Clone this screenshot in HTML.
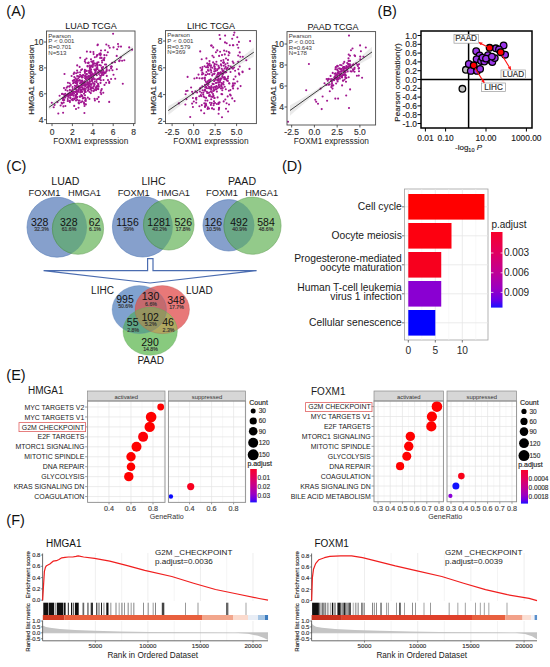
<!DOCTYPE html><html><head><meta charset="utf-8"><style>html,body{margin:0;padding:0;background:#fff;width:550px;height:667px;overflow:hidden;}svg{display:block;font-family:"Liberation Sans", sans-serif;} text{stroke-width:0.15px;}</style></head><body><svg width="550" height="667" viewBox="0 0 550 667"><rect width="550" height="667" fill="#fff"/><text x="6.30" y="16.00" font-size="14.5" text-anchor="start" fill="#111"  >(A)</text>
<text x="377.60" y="16.00" font-size="14.5" text-anchor="start" fill="#111"  >(B)</text>
<text x="6.30" y="170.60" font-size="14.5" text-anchor="start" fill="#111"  >(C)</text>
<text x="282.00" y="170.60" font-size="14.5" text-anchor="start" fill="#111"  >(D)</text>
<text x="6.30" y="379.60" font-size="14.5" text-anchor="start" fill="#111"  >(E)</text>
<text x="6.30" y="525.40" font-size="14.5" text-anchor="start" fill="#111"  >(F)</text>
<g>
<polygon points="48.9,104.8 53.1,102.1 57.3,99.4 61.5,96.7 65.7,94.0 69.8,91.2 74.0,88.4 78.2,85.6 82.4,82.8 86.6,79.9 90.8,76.9 94.9,74.0 99.1,71.0 103.3,68.0 107.5,65.0 111.7,61.9 115.9,58.8 120.0,55.6 124.2,52.5 128.4,49.3 132.6,46.0 132.6,51.2 128.4,53.9 124.2,56.5 120.0,59.2 115.9,62.0 111.7,64.7 107.5,67.5 103.3,70.4 99.1,73.2 94.9,76.1 90.8,79.0 86.6,82.0 82.4,85.0 78.2,88.0 74.0,91.0 69.8,94.1 65.7,97.2 61.5,100.3 57.3,103.5 53.1,106.7 48.9,109.9" fill="#dcdcdc" opacity="0.6"/>
<circle cx="69.8" cy="89.9" r="1.05" fill="#a1168f"/>
<circle cx="100.4" cy="77.8" r="1.05" fill="#a1168f"/>
<circle cx="68.4" cy="94.2" r="1.05" fill="#a1168f"/>
<circle cx="93.3" cy="63.6" r="1.05" fill="#a1168f"/>
<circle cx="69.9" cy="102.1" r="1.05" fill="#a1168f"/>
<circle cx="96.4" cy="68.3" r="1.05" fill="#a1168f"/>
<circle cx="107.8" cy="52.2" r="1.05" fill="#a1168f"/>
<circle cx="85.3" cy="84.6" r="1.05" fill="#a1168f"/>
<circle cx="122.1" cy="60.8" r="1.05" fill="#a1168f"/>
<circle cx="75.9" cy="98.0" r="1.05" fill="#a1168f"/>
<circle cx="88.0" cy="78.4" r="1.05" fill="#a1168f"/>
<circle cx="81.9" cy="84.8" r="1.05" fill="#a1168f"/>
<circle cx="90.4" cy="70.6" r="1.05" fill="#a1168f"/>
<circle cx="101.8" cy="67.5" r="1.05" fill="#a1168f"/>
<circle cx="62.0" cy="94.0" r="1.05" fill="#a1168f"/>
<circle cx="67.1" cy="95.8" r="1.05" fill="#a1168f"/>
<circle cx="66.4" cy="95.1" r="1.05" fill="#a1168f"/>
<circle cx="76.0" cy="86.6" r="1.05" fill="#a1168f"/>
<circle cx="132.1" cy="49.8" r="1.05" fill="#a1168f"/>
<circle cx="98.3" cy="89.1" r="1.05" fill="#a1168f"/>
<circle cx="82.7" cy="77.2" r="1.05" fill="#a1168f"/>
<circle cx="85.4" cy="78.0" r="1.05" fill="#a1168f"/>
<circle cx="88.1" cy="90.5" r="1.05" fill="#a1168f"/>
<circle cx="94.4" cy="84.9" r="1.05" fill="#a1168f"/>
<circle cx="112.5" cy="70.3" r="1.05" fill="#a1168f"/>
<circle cx="96.1" cy="74.2" r="1.05" fill="#a1168f"/>
<circle cx="99.8" cy="79.3" r="1.05" fill="#a1168f"/>
<circle cx="100.4" cy="72.8" r="1.05" fill="#a1168f"/>
<circle cx="104.1" cy="60.2" r="1.05" fill="#a1168f"/>
<circle cx="88.6" cy="87.8" r="1.05" fill="#a1168f"/>
<circle cx="97.3" cy="67.7" r="1.05" fill="#a1168f"/>
<circle cx="109.3" cy="70.4" r="1.05" fill="#a1168f"/>
<circle cx="94.3" cy="69.5" r="1.05" fill="#a1168f"/>
<circle cx="90.6" cy="75.8" r="1.05" fill="#a1168f"/>
<circle cx="89.2" cy="85.6" r="1.05" fill="#a1168f"/>
<circle cx="72.7" cy="93.8" r="1.05" fill="#a1168f"/>
<circle cx="94.8" cy="57.3" r="1.05" fill="#a1168f"/>
<circle cx="100.1" cy="58.0" r="1.05" fill="#a1168f"/>
<circle cx="97.4" cy="64.8" r="1.05" fill="#a1168f"/>
<circle cx="89.2" cy="70.7" r="1.05" fill="#a1168f"/>
<circle cx="111.1" cy="68.5" r="1.05" fill="#a1168f"/>
<circle cx="77.1" cy="70.6" r="1.05" fill="#a1168f"/>
<circle cx="90.0" cy="67.8" r="1.05" fill="#a1168f"/>
<circle cx="98.7" cy="86.6" r="1.05" fill="#a1168f"/>
<circle cx="89.1" cy="71.0" r="1.05" fill="#a1168f"/>
<circle cx="88.4" cy="89.1" r="1.05" fill="#a1168f"/>
<circle cx="85.1" cy="78.2" r="1.05" fill="#a1168f"/>
<circle cx="102.0" cy="60.8" r="1.05" fill="#a1168f"/>
<circle cx="87.5" cy="66.0" r="1.05" fill="#a1168f"/>
<circle cx="76.2" cy="81.5" r="1.05" fill="#a1168f"/>
<circle cx="102.0" cy="73.9" r="1.05" fill="#a1168f"/>
<circle cx="62.0" cy="103.6" r="1.05" fill="#a1168f"/>
<circle cx="89.9" cy="72.8" r="1.05" fill="#a1168f"/>
<circle cx="108.0" cy="80.1" r="1.05" fill="#a1168f"/>
<circle cx="86.7" cy="74.1" r="1.05" fill="#a1168f"/>
<circle cx="84.5" cy="106.0" r="1.05" fill="#a1168f"/>
<circle cx="97.8" cy="44.5" r="1.05" fill="#a1168f"/>
<circle cx="100.5" cy="82.9" r="1.05" fill="#a1168f"/>
<circle cx="81.0" cy="82.8" r="1.05" fill="#a1168f"/>
<circle cx="121.0" cy="46.6" r="1.05" fill="#a1168f"/>
<circle cx="88.2" cy="63.2" r="1.05" fill="#a1168f"/>
<circle cx="85.6" cy="62.7" r="1.05" fill="#a1168f"/>
<circle cx="77.2" cy="91.6" r="1.05" fill="#a1168f"/>
<circle cx="96.6" cy="56.6" r="1.05" fill="#a1168f"/>
<circle cx="95.7" cy="70.9" r="1.05" fill="#a1168f"/>
<circle cx="61.6" cy="102.7" r="1.05" fill="#a1168f"/>
<circle cx="78.3" cy="91.5" r="1.05" fill="#a1168f"/>
<circle cx="94.8" cy="79.1" r="1.05" fill="#a1168f"/>
<circle cx="97.5" cy="72.2" r="1.05" fill="#a1168f"/>
<circle cx="82.1" cy="82.9" r="1.05" fill="#a1168f"/>
<circle cx="92.6" cy="66.9" r="1.05" fill="#a1168f"/>
<circle cx="80.1" cy="87.6" r="1.05" fill="#a1168f"/>
<circle cx="67.9" cy="82.8" r="1.05" fill="#a1168f"/>
<circle cx="106.7" cy="69.3" r="1.05" fill="#a1168f"/>
<circle cx="80.1" cy="96.8" r="1.05" fill="#a1168f"/>
<circle cx="89.0" cy="77.0" r="1.05" fill="#a1168f"/>
<circle cx="116.7" cy="55.9" r="1.05" fill="#a1168f"/>
<circle cx="76.0" cy="109.0" r="1.05" fill="#a1168f"/>
<circle cx="106.1" cy="64.6" r="1.05" fill="#a1168f"/>
<circle cx="64.5" cy="95.2" r="1.05" fill="#a1168f"/>
<circle cx="64.5" cy="74.0" r="1.05" fill="#a1168f"/>
<circle cx="102.1" cy="62.5" r="1.05" fill="#a1168f"/>
<circle cx="84.3" cy="103.8" r="1.05" fill="#a1168f"/>
<circle cx="84.9" cy="97.7" r="1.05" fill="#a1168f"/>
<circle cx="94.9" cy="100.4" r="1.05" fill="#a1168f"/>
<circle cx="74.2" cy="79.7" r="1.05" fill="#a1168f"/>
<circle cx="109.3" cy="81.9" r="1.05" fill="#a1168f"/>
<circle cx="65.6" cy="89.9" r="1.05" fill="#a1168f"/>
<circle cx="98.4" cy="84.9" r="1.05" fill="#a1168f"/>
<circle cx="77.1" cy="93.6" r="1.05" fill="#a1168f"/>
<circle cx="70.3" cy="97.4" r="1.05" fill="#a1168f"/>
<circle cx="103.9" cy="59.5" r="1.05" fill="#a1168f"/>
<circle cx="115.0" cy="62.3" r="1.05" fill="#a1168f"/>
<circle cx="84.8" cy="92.0" r="1.05" fill="#a1168f"/>
<circle cx="85.0" cy="95.3" r="1.05" fill="#a1168f"/>
<circle cx="62.2" cy="93.8" r="1.05" fill="#a1168f"/>
<circle cx="106.5" cy="55.3" r="1.05" fill="#a1168f"/>
<circle cx="105.0" cy="64.5" r="1.05" fill="#a1168f"/>
<circle cx="76.8" cy="87.0" r="1.05" fill="#a1168f"/>
<circle cx="81.5" cy="95.0" r="1.05" fill="#a1168f"/>
<circle cx="63.4" cy="106.4" r="1.05" fill="#a1168f"/>
<circle cx="86.6" cy="79.3" r="1.05" fill="#a1168f"/>
<circle cx="80.1" cy="72.3" r="1.05" fill="#a1168f"/>
<circle cx="89.1" cy="72.8" r="1.05" fill="#a1168f"/>
<circle cx="103.5" cy="80.0" r="1.05" fill="#a1168f"/>
<circle cx="59.6" cy="95.7" r="1.05" fill="#a1168f"/>
<circle cx="77.2" cy="76.1" r="1.05" fill="#a1168f"/>
<circle cx="91.3" cy="66.3" r="1.05" fill="#a1168f"/>
<circle cx="97.2" cy="98.9" r="1.05" fill="#a1168f"/>
<circle cx="96.6" cy="82.1" r="1.05" fill="#a1168f"/>
<circle cx="76.3" cy="91.9" r="1.05" fill="#a1168f"/>
<circle cx="97.3" cy="62.6" r="1.05" fill="#a1168f"/>
<circle cx="100.6" cy="92.4" r="1.05" fill="#a1168f"/>
<circle cx="78.5" cy="107.7" r="1.05" fill="#a1168f"/>
<circle cx="85.3" cy="75.8" r="1.05" fill="#a1168f"/>
<circle cx="76.2" cy="86.2" r="1.05" fill="#a1168f"/>
<circle cx="89.9" cy="67.6" r="1.05" fill="#a1168f"/>
<circle cx="75.4" cy="95.7" r="1.05" fill="#a1168f"/>
<circle cx="76.2" cy="73.3" r="1.05" fill="#a1168f"/>
<circle cx="101.7" cy="71.9" r="1.05" fill="#a1168f"/>
<circle cx="89.8" cy="77.4" r="1.05" fill="#a1168f"/>
<circle cx="89.5" cy="81.1" r="1.05" fill="#a1168f"/>
<circle cx="82.1" cy="96.1" r="1.05" fill="#a1168f"/>
<circle cx="77.8" cy="72.5" r="1.05" fill="#a1168f"/>
<circle cx="94.1" cy="74.9" r="1.05" fill="#a1168f"/>
<circle cx="83.7" cy="82.3" r="1.05" fill="#a1168f"/>
<circle cx="91.5" cy="84.7" r="1.05" fill="#a1168f"/>
<circle cx="89.4" cy="76.3" r="1.05" fill="#a1168f"/>
<circle cx="76.4" cy="94.8" r="1.05" fill="#a1168f"/>
<circle cx="72.9" cy="98.9" r="1.05" fill="#a1168f"/>
<circle cx="98.9" cy="101.8" r="1.05" fill="#a1168f"/>
<circle cx="83.0" cy="89.4" r="1.05" fill="#a1168f"/>
<circle cx="78.1" cy="86.0" r="1.05" fill="#a1168f"/>
<circle cx="102.2" cy="68.9" r="1.05" fill="#a1168f"/>
<circle cx="84.7" cy="88.3" r="1.05" fill="#a1168f"/>
<circle cx="84.9" cy="72.9" r="1.05" fill="#a1168f"/>
<circle cx="81.3" cy="95.4" r="1.05" fill="#a1168f"/>
<circle cx="69.3" cy="101.1" r="1.05" fill="#a1168f"/>
<circle cx="67.5" cy="86.6" r="1.05" fill="#a1168f"/>
<circle cx="91.6" cy="80.1" r="1.05" fill="#a1168f"/>
<circle cx="106.8" cy="75.9" r="1.05" fill="#a1168f"/>
<circle cx="97.0" cy="63.8" r="1.05" fill="#a1168f"/>
<circle cx="65.4" cy="106.0" r="1.05" fill="#a1168f"/>
<circle cx="73.9" cy="82.5" r="1.05" fill="#a1168f"/>
<circle cx="104.5" cy="84.9" r="1.05" fill="#a1168f"/>
<circle cx="101.1" cy="75.7" r="1.05" fill="#a1168f"/>
<circle cx="81.3" cy="89.8" r="1.05" fill="#a1168f"/>
<circle cx="82.2" cy="101.4" r="1.05" fill="#a1168f"/>
<circle cx="72.9" cy="100.3" r="1.05" fill="#a1168f"/>
<circle cx="93.4" cy="52.0" r="1.05" fill="#a1168f"/>
<circle cx="124.3" cy="60.2" r="1.05" fill="#a1168f"/>
<circle cx="63.0" cy="100.0" r="1.05" fill="#a1168f"/>
<circle cx="73.7" cy="73.9" r="1.05" fill="#a1168f"/>
<circle cx="94.5" cy="83.9" r="1.05" fill="#a1168f"/>
<circle cx="99.6" cy="65.0" r="1.05" fill="#a1168f"/>
<circle cx="64.3" cy="100.0" r="1.05" fill="#a1168f"/>
<circle cx="83.4" cy="83.0" r="1.05" fill="#a1168f"/>
<circle cx="88.5" cy="83.2" r="1.05" fill="#a1168f"/>
<circle cx="89.3" cy="85.4" r="1.05" fill="#a1168f"/>
<circle cx="74.3" cy="77.1" r="1.05" fill="#a1168f"/>
<circle cx="91.6" cy="72.4" r="1.05" fill="#a1168f"/>
<circle cx="64.7" cy="97.3" r="1.05" fill="#a1168f"/>
<circle cx="98.0" cy="88.9" r="1.05" fill="#a1168f"/>
<circle cx="101.8" cy="75.3" r="1.05" fill="#a1168f"/>
<circle cx="92.2" cy="78.5" r="1.05" fill="#a1168f"/>
<circle cx="89.7" cy="65.6" r="1.05" fill="#a1168f"/>
<circle cx="81.1" cy="70.1" r="1.05" fill="#a1168f"/>
<circle cx="75.9" cy="96.3" r="1.05" fill="#a1168f"/>
<circle cx="96.5" cy="86.9" r="1.05" fill="#a1168f"/>
<circle cx="81.6" cy="75.9" r="1.05" fill="#a1168f"/>
<circle cx="103.3" cy="92.8" r="1.05" fill="#a1168f"/>
<circle cx="93.6" cy="54.1" r="1.05" fill="#a1168f"/>
<circle cx="103.1" cy="72.5" r="1.05" fill="#a1168f"/>
<circle cx="78.4" cy="89.3" r="1.05" fill="#a1168f"/>
<circle cx="70.8" cy="94.0" r="1.05" fill="#a1168f"/>
<circle cx="84.1" cy="84.1" r="1.05" fill="#a1168f"/>
<circle cx="103.0" cy="72.5" r="1.05" fill="#a1168f"/>
<circle cx="66.6" cy="87.8" r="1.05" fill="#a1168f"/>
<circle cx="71.9" cy="94.7" r="1.05" fill="#a1168f"/>
<circle cx="84.8" cy="85.6" r="1.05" fill="#a1168f"/>
<circle cx="72.9" cy="92.5" r="1.05" fill="#a1168f"/>
<circle cx="116.8" cy="69.3" r="1.05" fill="#a1168f"/>
<circle cx="84.8" cy="70.9" r="1.05" fill="#a1168f"/>
<circle cx="96.9" cy="64.3" r="1.05" fill="#a1168f"/>
<circle cx="98.6" cy="97.1" r="1.05" fill="#a1168f"/>
<circle cx="74.8" cy="88.1" r="1.05" fill="#a1168f"/>
<circle cx="93.5" cy="61.0" r="1.05" fill="#a1168f"/>
<circle cx="93.1" cy="79.0" r="1.05" fill="#a1168f"/>
<circle cx="87.2" cy="82.7" r="1.05" fill="#a1168f"/>
<circle cx="90.1" cy="71.1" r="1.05" fill="#a1168f"/>
<circle cx="82.0" cy="91.9" r="1.05" fill="#a1168f"/>
<circle cx="74.9" cy="80.0" r="1.05" fill="#a1168f"/>
<circle cx="104.3" cy="55.1" r="1.05" fill="#a1168f"/>
<circle cx="98.5" cy="62.2" r="1.05" fill="#a1168f"/>
<circle cx="86.6" cy="74.0" r="1.05" fill="#a1168f"/>
<circle cx="72.2" cy="92.6" r="1.05" fill="#a1168f"/>
<circle cx="76.6" cy="81.7" r="1.05" fill="#a1168f"/>
<circle cx="78.7" cy="87.4" r="1.05" fill="#a1168f"/>
<circle cx="92.2" cy="61.6" r="1.05" fill="#a1168f"/>
<circle cx="75.8" cy="96.4" r="1.05" fill="#a1168f"/>
<circle cx="97.9" cy="86.6" r="1.05" fill="#a1168f"/>
<circle cx="92.9" cy="83.0" r="1.05" fill="#a1168f"/>
<circle cx="85.2" cy="100.3" r="1.05" fill="#a1168f"/>
<circle cx="96.5" cy="80.0" r="1.05" fill="#a1168f"/>
<circle cx="74.3" cy="72.6" r="1.05" fill="#a1168f"/>
<circle cx="92.3" cy="80.9" r="1.05" fill="#a1168f"/>
<circle cx="88.2" cy="62.7" r="1.05" fill="#a1168f"/>
<circle cx="86.3" cy="76.5" r="1.05" fill="#a1168f"/>
<circle cx="93.8" cy="86.4" r="1.05" fill="#a1168f"/>
<circle cx="88.5" cy="85.0" r="1.05" fill="#a1168f"/>
<circle cx="69.5" cy="86.5" r="1.05" fill="#a1168f"/>
<circle cx="95.8" cy="73.5" r="1.05" fill="#a1168f"/>
<circle cx="74.2" cy="105.9" r="1.05" fill="#a1168f"/>
<circle cx="93.4" cy="77.3" r="1.05" fill="#a1168f"/>
<circle cx="63.5" cy="97.5" r="1.05" fill="#a1168f"/>
<circle cx="65.7" cy="95.7" r="1.05" fill="#a1168f"/>
<circle cx="88.6" cy="75.7" r="1.05" fill="#a1168f"/>
<circle cx="89.7" cy="76.9" r="1.05" fill="#a1168f"/>
<circle cx="71.0" cy="94.8" r="1.05" fill="#a1168f"/>
<circle cx="79.6" cy="87.9" r="1.05" fill="#a1168f"/>
<circle cx="90.4" cy="71.4" r="1.05" fill="#a1168f"/>
<circle cx="109.2" cy="101.9" r="1.05" fill="#a1168f"/>
<circle cx="92.2" cy="79.2" r="1.05" fill="#a1168f"/>
<circle cx="118.0" cy="44.0" r="1.05" fill="#a1168f"/>
<circle cx="63.9" cy="94.3" r="1.05" fill="#a1168f"/>
<circle cx="79.5" cy="76.9" r="1.05" fill="#a1168f"/>
<circle cx="72.1" cy="91.8" r="1.05" fill="#a1168f"/>
<circle cx="84.9" cy="83.1" r="1.05" fill="#a1168f"/>
<circle cx="78.6" cy="102.9" r="1.05" fill="#a1168f"/>
<circle cx="93.0" cy="64.9" r="1.05" fill="#a1168f"/>
<circle cx="85.7" cy="91.9" r="1.05" fill="#a1168f"/>
<circle cx="89.5" cy="72.7" r="1.05" fill="#a1168f"/>
<circle cx="84.3" cy="82.7" r="1.05" fill="#a1168f"/>
<circle cx="106.1" cy="82.7" r="1.05" fill="#a1168f"/>
<circle cx="79.0" cy="103.4" r="1.05" fill="#a1168f"/>
<circle cx="77.0" cy="94.0" r="1.05" fill="#a1168f"/>
<circle cx="73.5" cy="95.7" r="1.05" fill="#a1168f"/>
<circle cx="111.4" cy="66.4" r="1.05" fill="#a1168f"/>
<circle cx="85.1" cy="59.8" r="1.05" fill="#a1168f"/>
<circle cx="85.8" cy="99.1" r="1.05" fill="#a1168f"/>
<circle cx="92.2" cy="87.6" r="1.05" fill="#a1168f"/>
<circle cx="109.2" cy="82.9" r="1.05" fill="#a1168f"/>
<circle cx="78.7" cy="100.8" r="1.05" fill="#a1168f"/>
<circle cx="88.0" cy="90.7" r="1.05" fill="#a1168f"/>
<circle cx="85.8" cy="85.3" r="1.05" fill="#a1168f"/>
<circle cx="78.2" cy="78.4" r="1.05" fill="#a1168f"/>
<circle cx="99.6" cy="71.0" r="1.05" fill="#a1168f"/>
<circle cx="74.3" cy="98.3" r="1.05" fill="#a1168f"/>
<circle cx="90.4" cy="51.9" r="1.05" fill="#a1168f"/>
<circle cx="80.4" cy="92.5" r="1.05" fill="#a1168f"/>
<circle cx="77.1" cy="97.1" r="1.05" fill="#a1168f"/>
<circle cx="73.3" cy="91.9" r="1.05" fill="#a1168f"/>
<circle cx="106.4" cy="67.0" r="1.05" fill="#a1168f"/>
<circle cx="79.6" cy="100.5" r="1.05" fill="#a1168f"/>
<circle cx="89.6" cy="79.1" r="1.05" fill="#a1168f"/>
<circle cx="69.8" cy="100.7" r="1.05" fill="#a1168f"/>
<circle cx="86.1" cy="70.9" r="1.05" fill="#a1168f"/>
<circle cx="95.3" cy="72.3" r="1.05" fill="#a1168f"/>
<circle cx="82.2" cy="80.9" r="1.05" fill="#a1168f"/>
<circle cx="86.5" cy="58.5" r="1.05" fill="#a1168f"/>
<circle cx="71.1" cy="94.6" r="1.05" fill="#a1168f"/>
<circle cx="104.1" cy="72.2" r="1.05" fill="#a1168f"/>
<circle cx="106.3" cy="67.7" r="1.05" fill="#a1168f"/>
<circle cx="88.7" cy="83.4" r="1.05" fill="#a1168f"/>
<circle cx="67.7" cy="101.0" r="1.05" fill="#a1168f"/>
<circle cx="117.2" cy="49.2" r="1.05" fill="#a1168f"/>
<circle cx="95.0" cy="63.7" r="1.05" fill="#a1168f"/>
<circle cx="94.5" cy="63.3" r="1.05" fill="#a1168f"/>
<circle cx="83.0" cy="85.6" r="1.05" fill="#a1168f"/>
<circle cx="100.2" cy="75.8" r="1.05" fill="#a1168f"/>
<circle cx="68.4" cy="95.3" r="1.05" fill="#a1168f"/>
<circle cx="79.2" cy="80.6" r="1.05" fill="#a1168f"/>
<circle cx="76.8" cy="96.9" r="1.05" fill="#a1168f"/>
<circle cx="82.1" cy="69.2" r="1.05" fill="#a1168f"/>
<circle cx="86.0" cy="79.7" r="1.05" fill="#a1168f"/>
<circle cx="86.8" cy="77.7" r="1.05" fill="#a1168f"/>
<circle cx="99.5" cy="54.2" r="1.05" fill="#a1168f"/>
<circle cx="64.0" cy="88.1" r="1.05" fill="#a1168f"/>
<circle cx="86.6" cy="84.2" r="1.05" fill="#a1168f"/>
<circle cx="119.7" cy="60.4" r="1.05" fill="#a1168f"/>
<circle cx="113.5" cy="47.4" r="1.05" fill="#a1168f"/>
<circle cx="72.5" cy="87.0" r="1.05" fill="#a1168f"/>
<circle cx="96.8" cy="75.2" r="1.05" fill="#a1168f"/>
<circle cx="54.6" cy="105.0" r="1.05" fill="#a1168f"/>
<circle cx="84.0" cy="93.7" r="1.05" fill="#a1168f"/>
<circle cx="111.8" cy="66.8" r="1.05" fill="#a1168f"/>
<circle cx="81.3" cy="87.5" r="1.05" fill="#a1168f"/>
<circle cx="75.9" cy="95.0" r="1.05" fill="#a1168f"/>
<circle cx="88.0" cy="76.6" r="1.05" fill="#a1168f"/>
<circle cx="79.7" cy="86.6" r="1.05" fill="#a1168f"/>
<circle cx="67.5" cy="90.7" r="1.05" fill="#a1168f"/>
<circle cx="76.4" cy="86.3" r="1.05" fill="#a1168f"/>
<circle cx="74.2" cy="93.8" r="1.05" fill="#a1168f"/>
<circle cx="89.6" cy="92.0" r="1.05" fill="#a1168f"/>
<circle cx="120.7" cy="57.6" r="1.05" fill="#a1168f"/>
<circle cx="85.7" cy="89.0" r="1.05" fill="#a1168f"/>
<circle cx="108.6" cy="45.7" r="1.05" fill="#a1168f"/>
<circle cx="90.8" cy="93.1" r="1.05" fill="#a1168f"/>
<circle cx="79.7" cy="80.1" r="1.05" fill="#a1168f"/>
<circle cx="79.6" cy="96.6" r="1.05" fill="#a1168f"/>
<circle cx="70.3" cy="98.1" r="1.05" fill="#a1168f"/>
<circle cx="86.9" cy="87.5" r="1.05" fill="#a1168f"/>
<circle cx="86.9" cy="51.6" r="1.05" fill="#a1168f"/>
<circle cx="111.1" cy="79.0" r="1.05" fill="#a1168f"/>
<circle cx="91.4" cy="76.6" r="1.05" fill="#a1168f"/>
<circle cx="84.8" cy="71.7" r="1.05" fill="#a1168f"/>
<circle cx="82.1" cy="87.2" r="1.05" fill="#a1168f"/>
<circle cx="81.5" cy="85.4" r="1.05" fill="#a1168f"/>
<circle cx="104.4" cy="57.9" r="1.05" fill="#a1168f"/>
<circle cx="68.2" cy="96.9" r="1.05" fill="#a1168f"/>
<circle cx="75.7" cy="81.7" r="1.05" fill="#a1168f"/>
<circle cx="89.8" cy="69.0" r="1.05" fill="#a1168f"/>
<circle cx="85.8" cy="100.9" r="1.05" fill="#a1168f"/>
<circle cx="92.9" cy="73.9" r="1.05" fill="#a1168f"/>
<circle cx="93.7" cy="91.1" r="1.05" fill="#a1168f"/>
<circle cx="87.8" cy="87.3" r="1.05" fill="#a1168f"/>
<circle cx="77.2" cy="84.4" r="1.05" fill="#a1168f"/>
<circle cx="91.5" cy="87.5" r="1.05" fill="#a1168f"/>
<circle cx="63.1" cy="112.7" r="1.05" fill="#a1168f"/>
<circle cx="78.8" cy="76.4" r="1.05" fill="#a1168f"/>
<circle cx="85.9" cy="104.4" r="1.05" fill="#a1168f"/>
<circle cx="74.8" cy="85.7" r="1.05" fill="#a1168f"/>
<circle cx="109.7" cy="47.8" r="1.05" fill="#a1168f"/>
<circle cx="91.7" cy="75.1" r="1.05" fill="#a1168f"/>
<circle cx="72.1" cy="94.6" r="1.05" fill="#a1168f"/>
<circle cx="82.1" cy="91.5" r="1.05" fill="#a1168f"/>
<circle cx="87.6" cy="84.4" r="1.05" fill="#a1168f"/>
<circle cx="91.3" cy="61.5" r="1.05" fill="#a1168f"/>
<circle cx="96.9" cy="68.6" r="1.05" fill="#a1168f"/>
<circle cx="83.4" cy="98.0" r="1.05" fill="#a1168f"/>
<circle cx="85.1" cy="76.5" r="1.05" fill="#a1168f"/>
<circle cx="72.8" cy="80.7" r="1.05" fill="#a1168f"/>
<circle cx="82.1" cy="80.5" r="1.05" fill="#a1168f"/>
<circle cx="82.2" cy="96.0" r="1.05" fill="#a1168f"/>
<circle cx="115.2" cy="78.8" r="1.05" fill="#a1168f"/>
<circle cx="99.3" cy="79.0" r="1.05" fill="#a1168f"/>
<circle cx="90.5" cy="87.0" r="1.05" fill="#a1168f"/>
<circle cx="80.9" cy="76.3" r="1.05" fill="#a1168f"/>
<circle cx="113.5" cy="74.8" r="1.05" fill="#a1168f"/>
<circle cx="86.8" cy="70.9" r="1.05" fill="#a1168f"/>
<circle cx="78.0" cy="80.7" r="1.05" fill="#a1168f"/>
<circle cx="75.9" cy="83.3" r="1.05" fill="#a1168f"/>
<circle cx="92.7" cy="62.8" r="1.05" fill="#a1168f"/>
<circle cx="91.7" cy="90.8" r="1.05" fill="#a1168f"/>
<circle cx="95.8" cy="87.6" r="1.05" fill="#a1168f"/>
<circle cx="97.0" cy="55.2" r="1.05" fill="#a1168f"/>
<circle cx="94.9" cy="81.6" r="1.05" fill="#a1168f"/>
<circle cx="103.1" cy="67.1" r="1.05" fill="#a1168f"/>
<circle cx="69.5" cy="95.5" r="1.05" fill="#a1168f"/>
<circle cx="106.2" cy="71.3" r="1.05" fill="#a1168f"/>
<circle cx="88.4" cy="83.3" r="1.05" fill="#a1168f"/>
<circle cx="63.5" cy="100.3" r="1.05" fill="#a1168f"/>
<circle cx="91.6" cy="75.1" r="1.05" fill="#a1168f"/>
<circle cx="84.3" cy="103.7" r="1.05" fill="#a1168f"/>
<circle cx="103.5" cy="59.4" r="1.05" fill="#a1168f"/>
<circle cx="100.8" cy="54.2" r="1.05" fill="#a1168f"/>
<circle cx="80.6" cy="90.8" r="1.05" fill="#a1168f"/>
<circle cx="91.0" cy="59.2" r="1.05" fill="#a1168f"/>
<circle cx="63.5" cy="98.6" r="1.05" fill="#a1168f"/>
<circle cx="76.8" cy="82.9" r="1.05" fill="#a1168f"/>
<circle cx="106.8" cy="70.8" r="1.05" fill="#a1168f"/>
<circle cx="69.6" cy="92.5" r="1.05" fill="#a1168f"/>
<circle cx="82.8" cy="98.5" r="1.05" fill="#a1168f"/>
<circle cx="98.9" cy="78.8" r="1.05" fill="#a1168f"/>
<circle cx="96.1" cy="90.1" r="1.05" fill="#a1168f"/>
<circle cx="101.8" cy="89.0" r="1.05" fill="#a1168f"/>
<circle cx="101.2" cy="94.1" r="1.05" fill="#a1168f"/>
<circle cx="105.7" cy="72.7" r="1.05" fill="#a1168f"/>
<circle cx="65.3" cy="97.4" r="1.05" fill="#a1168f"/>
<circle cx="91.3" cy="88.7" r="1.05" fill="#a1168f"/>
<circle cx="79.9" cy="83.2" r="1.05" fill="#a1168f"/>
<circle cx="84.4" cy="113.0" r="1.05" fill="#a1168f"/>
<circle cx="80.8" cy="81.0" r="1.05" fill="#a1168f"/>
<circle cx="90.8" cy="66.8" r="1.05" fill="#a1168f"/>
<circle cx="77.2" cy="65.4" r="1.05" fill="#a1168f"/>
<circle cx="97.7" cy="69.3" r="1.05" fill="#a1168f"/>
<circle cx="101.6" cy="57.9" r="1.05" fill="#a1168f"/>
<circle cx="88.1" cy="86.4" r="1.05" fill="#a1168f"/>
<circle cx="100.8" cy="65.5" r="1.05" fill="#a1168f"/>
<circle cx="60.6" cy="105.5" r="1.05" fill="#a1168f"/>
<circle cx="93.1" cy="75.1" r="1.05" fill="#a1168f"/>
<circle cx="90.5" cy="71.1" r="1.05" fill="#a1168f"/>
<circle cx="88.7" cy="62.5" r="1.05" fill="#a1168f"/>
<circle cx="78.6" cy="90.1" r="1.05" fill="#a1168f"/>
<circle cx="91.1" cy="69.4" r="1.05" fill="#a1168f"/>
<circle cx="97.5" cy="55.0" r="1.05" fill="#a1168f"/>
<circle cx="80.1" cy="74.7" r="1.05" fill="#a1168f"/>
<circle cx="93.1" cy="88.3" r="1.05" fill="#a1168f"/>
<circle cx="84.8" cy="61.3" r="1.05" fill="#a1168f"/>
<circle cx="97.5" cy="79.0" r="1.05" fill="#a1168f"/>
<circle cx="53.7" cy="107.3" r="1.05" fill="#a1168f"/>
<circle cx="77.0" cy="87.0" r="1.05" fill="#a1168f"/>
<circle cx="118.5" cy="46.6" r="1.05" fill="#a1168f"/>
<circle cx="91.0" cy="88.2" r="1.05" fill="#a1168f"/>
<circle cx="70.3" cy="93.9" r="1.05" fill="#a1168f"/>
<circle cx="80.2" cy="57.7" r="1.05" fill="#a1168f"/>
<circle cx="81.1" cy="90.5" r="1.05" fill="#a1168f"/>
<circle cx="102.2" cy="68.9" r="1.05" fill="#a1168f"/>
<circle cx="69.7" cy="83.3" r="1.05" fill="#a1168f"/>
<circle cx="82.4" cy="96.6" r="1.05" fill="#a1168f"/>
<circle cx="91.1" cy="72.3" r="1.05" fill="#a1168f"/>
<circle cx="82.0" cy="77.5" r="1.05" fill="#a1168f"/>
<circle cx="98.0" cy="83.8" r="1.05" fill="#a1168f"/>
<circle cx="58.3" cy="113.5" r="1.05" fill="#a1168f"/>
<circle cx="84.9" cy="69.7" r="1.05" fill="#a1168f"/>
<circle cx="100.5" cy="53.3" r="1.05" fill="#a1168f"/>
<circle cx="112.2" cy="62.7" r="1.05" fill="#a1168f"/>
<circle cx="101.2" cy="90.4" r="1.05" fill="#a1168f"/>
<circle cx="96.2" cy="69.5" r="1.05" fill="#a1168f"/>
<circle cx="85.4" cy="86.2" r="1.05" fill="#a1168f"/>
<circle cx="71.3" cy="90.6" r="1.05" fill="#a1168f"/>
<circle cx="104.3" cy="73.4" r="1.05" fill="#a1168f"/>
<circle cx="94.0" cy="83.5" r="1.05" fill="#a1168f"/>
<circle cx="90.2" cy="89.5" r="1.05" fill="#a1168f"/>
<circle cx="91.9" cy="79.7" r="1.05" fill="#a1168f"/>
<circle cx="91.0" cy="84.5" r="1.05" fill="#a1168f"/>
<circle cx="70.5" cy="94.7" r="1.05" fill="#a1168f"/>
<circle cx="101.0" cy="50.5" r="1.05" fill="#a1168f"/>
<circle cx="82.2" cy="76.3" r="1.05" fill="#a1168f"/>
<circle cx="97.1" cy="68.7" r="1.05" fill="#a1168f"/>
<circle cx="65.3" cy="93.7" r="1.05" fill="#a1168f"/>
<circle cx="73.3" cy="80.8" r="1.05" fill="#a1168f"/>
<circle cx="97.5" cy="65.6" r="1.05" fill="#a1168f"/>
<circle cx="51.8" cy="102.8" r="1.05" fill="#a1168f"/>
<circle cx="96.3" cy="89.5" r="1.05" fill="#a1168f"/>
<circle cx="100.0" cy="70.5" r="1.05" fill="#a1168f"/>
<circle cx="84.2" cy="89.7" r="1.05" fill="#a1168f"/>
<circle cx="72.7" cy="94.1" r="1.05" fill="#a1168f"/>
<circle cx="129.2" cy="47.4" r="1.05" fill="#a1168f"/>
<circle cx="89.5" cy="85.9" r="1.05" fill="#a1168f"/>
<circle cx="78.2" cy="91.7" r="1.05" fill="#a1168f"/>
<circle cx="74.5" cy="82.2" r="1.05" fill="#a1168f"/>
<circle cx="83.0" cy="75.1" r="1.05" fill="#a1168f"/>
<circle cx="70.8" cy="85.0" r="1.05" fill="#a1168f"/>
<circle cx="86.3" cy="74.2" r="1.05" fill="#a1168f"/>
<circle cx="85.2" cy="90.8" r="1.05" fill="#a1168f"/>
<circle cx="103.3" cy="74.9" r="1.05" fill="#a1168f"/>
<circle cx="84.7" cy="91.1" r="1.05" fill="#a1168f"/>
<circle cx="89.5" cy="83.1" r="1.05" fill="#a1168f"/>
<circle cx="90.6" cy="74.3" r="1.05" fill="#a1168f"/>
<circle cx="77.2" cy="99.7" r="1.05" fill="#a1168f"/>
<circle cx="92.6" cy="66.2" r="1.05" fill="#a1168f"/>
<circle cx="96.3" cy="87.9" r="1.05" fill="#a1168f"/>
<circle cx="95.0" cy="70.4" r="1.05" fill="#a1168f"/>
<circle cx="90.6" cy="73.4" r="1.05" fill="#a1168f"/>
<circle cx="82.2" cy="81.9" r="1.05" fill="#a1168f"/>
<circle cx="99.4" cy="78.3" r="1.05" fill="#a1168f"/>
<circle cx="66.9" cy="95.5" r="1.05" fill="#a1168f"/>
<circle cx="89.4" cy="98.9" r="1.05" fill="#a1168f"/>
<circle cx="77.4" cy="82.3" r="1.05" fill="#a1168f"/>
<circle cx="84.6" cy="81.4" r="1.05" fill="#a1168f"/>
<circle cx="69.3" cy="86.4" r="1.05" fill="#a1168f"/>
<circle cx="110.8" cy="66.8" r="1.05" fill="#a1168f"/>
<circle cx="76.6" cy="97.8" r="1.05" fill="#a1168f"/>
<circle cx="98.9" cy="70.9" r="1.05" fill="#a1168f"/>
<circle cx="75.7" cy="78.3" r="1.05" fill="#a1168f"/>
<circle cx="97.2" cy="66.1" r="1.05" fill="#a1168f"/>
<circle cx="62.4" cy="98.5" r="1.05" fill="#a1168f"/>
<circle cx="95.3" cy="89.4" r="1.05" fill="#a1168f"/>
<circle cx="99.5" cy="53.8" r="1.05" fill="#a1168f"/>
<circle cx="100.9" cy="80.2" r="1.05" fill="#a1168f"/>
<circle cx="76.9" cy="79.6" r="1.05" fill="#a1168f"/>
<circle cx="100.4" cy="55.5" r="1.05" fill="#a1168f"/>
<circle cx="103.2" cy="70.6" r="1.05" fill="#a1168f"/>
<circle cx="81.0" cy="102.2" r="1.05" fill="#a1168f"/>
<circle cx="97.5" cy="45.3" r="1.05" fill="#a1168f"/>
<circle cx="80.3" cy="89.7" r="1.05" fill="#a1168f"/>
<circle cx="95.6" cy="70.1" r="1.05" fill="#a1168f"/>
<circle cx="67.8" cy="99.1" r="1.05" fill="#a1168f"/>
<circle cx="71.6" cy="76.0" r="1.05" fill="#a1168f"/>
<circle cx="76.8" cy="80.4" r="1.05" fill="#a1168f"/>
<circle cx="113.1" cy="33.8" r="1.05" fill="#a1168f"/>
<circle cx="106.3" cy="44.5" r="1.05" fill="#a1168f"/>
<circle cx="69.7" cy="95.3" r="1.05" fill="#a1168f"/>
<circle cx="76.7" cy="90.4" r="1.05" fill="#a1168f"/>
<circle cx="122.8" cy="83.7" r="1.05" fill="#a1168f"/>
<circle cx="94.4" cy="89.9" r="1.05" fill="#a1168f"/>
<circle cx="105.1" cy="50.2" r="1.05" fill="#a1168f"/>
<circle cx="79.6" cy="66.9" r="1.05" fill="#a1168f"/>
<circle cx="87.7" cy="66.4" r="1.05" fill="#a1168f"/>
<circle cx="91.0" cy="84.1" r="1.05" fill="#a1168f"/>
<circle cx="81.4" cy="85.6" r="1.05" fill="#a1168f"/>
<circle cx="95.2" cy="73.4" r="1.05" fill="#a1168f"/>
<circle cx="119.2" cy="61.1" r="1.05" fill="#a1168f"/>
<circle cx="80.3" cy="92.0" r="1.05" fill="#a1168f"/>
<circle cx="76.0" cy="100.5" r="1.05" fill="#a1168f"/>
<circle cx="73.1" cy="83.2" r="1.05" fill="#a1168f"/>
<circle cx="87.5" cy="82.1" r="1.05" fill="#a1168f"/>
<circle cx="91.5" cy="65.5" r="1.05" fill="#a1168f"/>
<circle cx="95.2" cy="65.7" r="1.05" fill="#a1168f"/>
<circle cx="79.0" cy="88.6" r="1.05" fill="#a1168f"/>
<circle cx="76.0" cy="89.2" r="1.05" fill="#a1168f"/>
<circle cx="75.4" cy="91.9" r="1.05" fill="#a1168f"/>
<circle cx="84.3" cy="84.7" r="1.05" fill="#a1168f"/>
<circle cx="83.0" cy="88.2" r="1.05" fill="#a1168f"/>
<circle cx="104.7" cy="72.8" r="1.05" fill="#a1168f"/>
<circle cx="72.8" cy="89.1" r="1.05" fill="#a1168f"/>
<circle cx="71.7" cy="99.6" r="1.05" fill="#a1168f"/>
<circle cx="87.8" cy="97.6" r="1.05" fill="#a1168f"/>
<circle cx="90.6" cy="66.6" r="1.05" fill="#a1168f"/>
<circle cx="63.7" cy="102.6" r="1.05" fill="#a1168f"/>
<circle cx="94.6" cy="98.7" r="1.05" fill="#a1168f"/>
<circle cx="74.6" cy="99.2" r="1.05" fill="#a1168f"/>
<circle cx="84.0" cy="102.2" r="1.05" fill="#a1168f"/>
<circle cx="99.0" cy="74.0" r="1.05" fill="#a1168f"/>
<circle cx="90.8" cy="81.6" r="1.05" fill="#a1168f"/>
<circle cx="57.5" cy="102.1" r="1.05" fill="#a1168f"/>
<circle cx="68.2" cy="93.7" r="1.05" fill="#a1168f"/>
<circle cx="74.9" cy="91.7" r="1.05" fill="#a1168f"/>
<circle cx="83.8" cy="75.3" r="1.05" fill="#a1168f"/>
<circle cx="97.2" cy="85.7" r="1.05" fill="#a1168f"/>
<line x1="48.94" y1="107.34" x2="132.58" y2="48.62" stroke="#2a2a2a" stroke-width="0.9" />
</g>
<rect x="46.50" y="31.00" width="88.50" height="92.60" fill="none" stroke="#4a4a4a" stroke-width="0.9" />
<line x1="44.00" y1="119.70" x2="46.50" y2="119.70" stroke="#333" stroke-width="0.8" />
<text x="43.50" y="122.70" font-size="8.5" text-anchor="end" fill="#333" stroke="#333" >4</text>
<line x1="44.00" y1="93.80" x2="46.50" y2="93.80" stroke="#333" stroke-width="0.8" />
<text x="43.50" y="96.80" font-size="8.5" text-anchor="end" fill="#333" stroke="#333" >6</text>
<line x1="44.00" y1="67.90" x2="46.50" y2="67.90" stroke="#333" stroke-width="0.8" />
<text x="43.50" y="70.90" font-size="8.5" text-anchor="end" fill="#333" stroke="#333" >8</text>
<line x1="44.00" y1="42.00" x2="46.50" y2="42.00" stroke="#333" stroke-width="0.8" />
<text x="43.50" y="45.00" font-size="8.5" text-anchor="end" fill="#333" stroke="#333" >10</text>
<line x1="52.00" y1="123.60" x2="52.00" y2="126.10" stroke="#333" stroke-width="0.8" />
<text x="52.00" y="134.50" font-size="8.5" text-anchor="middle" fill="#333" stroke="#333" >0</text>
<line x1="72.40" y1="123.60" x2="72.40" y2="126.10" stroke="#333" stroke-width="0.8" />
<text x="72.40" y="134.50" font-size="8.5" text-anchor="middle" fill="#333" stroke="#333" >2</text>
<line x1="92.80" y1="123.60" x2="92.80" y2="126.10" stroke="#333" stroke-width="0.8" />
<text x="92.80" y="134.50" font-size="8.5" text-anchor="middle" fill="#333" stroke="#333" >4</text>
<line x1="113.20" y1="123.60" x2="113.20" y2="126.10" stroke="#333" stroke-width="0.8" />
<text x="113.20" y="134.50" font-size="8.5" text-anchor="middle" fill="#333" stroke="#333" >6</text>
<line x1="133.60" y1="123.60" x2="133.60" y2="126.10" stroke="#333" stroke-width="0.8" />
<text x="133.60" y="134.50" font-size="8.5" text-anchor="middle" fill="#333" stroke="#333" >8</text>
<text x="91.00" y="29.20" font-size="9" text-anchor="middle" fill="#111"  >LUAD TCGA</text>
<text x="48.30" y="37.50" font-size="6.1" text-anchor="start" fill="#3a3a3a"  >Pearson</text>
<text x="48.30" y="43.20" font-size="6.1" text-anchor="start" fill="#3a3a3a"  >P &lt; 0.001</text>
<text x="48.30" y="48.90" font-size="6.1" text-anchor="start" fill="#3a3a3a"  >R=0.701</text>
<text x="48.30" y="54.60" font-size="6.1" text-anchor="start" fill="#3a3a3a"  >N=513</text>
<text x="90.75" y="143.60" font-size="8.3" text-anchor="middle" fill="#222"  >FOXM1 expresssion</text>
<text transform="translate(34.10,79.60) rotate(-90)" font-size="8.1" text-anchor="middle" fill="#222" stroke="#222">HMGA1 expression</text>
<g>
<polygon points="168.2,106.0 172.5,103.7 176.8,101.2 181.1,98.8 185.3,96.2 189.6,93.6 193.9,91.0 198.2,88.3 202.5,85.5 206.7,82.7 211.0,79.8 215.3,76.8 219.6,73.8 223.9,70.7 228.1,67.6 232.4,64.4 236.7,61.2 241.0,57.9 245.2,54.5 249.5,51.1 253.8,47.6 253.8,56.7 249.5,59.1 245.2,61.5 241.0,64.0 236.7,66.5 232.4,69.1 228.1,71.8 223.9,74.5 219.6,77.3 215.3,80.1 211.0,83.0 206.7,85.9 202.5,88.9 198.2,92.0 193.9,95.1 189.6,98.3 185.3,101.6 181.1,104.9 176.8,108.2 172.5,111.7 168.2,115.1" fill="#dcdcdc" opacity="0.6"/>
<circle cx="222.4" cy="76.0" r="1.05" fill="#a1168f"/>
<circle cx="222.5" cy="70.2" r="1.05" fill="#a1168f"/>
<circle cx="221.5" cy="83.0" r="1.05" fill="#a1168f"/>
<circle cx="204.8" cy="77.9" r="1.05" fill="#a1168f"/>
<circle cx="208.7" cy="70.7" r="1.05" fill="#a1168f"/>
<circle cx="212.1" cy="108.5" r="1.05" fill="#a1168f"/>
<circle cx="196.2" cy="102.7" r="1.05" fill="#a1168f"/>
<circle cx="186.4" cy="99.1" r="1.05" fill="#a1168f"/>
<circle cx="210.9" cy="67.0" r="1.05" fill="#a1168f"/>
<circle cx="202.6" cy="90.3" r="1.05" fill="#a1168f"/>
<circle cx="223.4" cy="60.0" r="1.05" fill="#a1168f"/>
<circle cx="200.4" cy="67.7" r="1.05" fill="#a1168f"/>
<circle cx="206.1" cy="67.2" r="1.05" fill="#a1168f"/>
<circle cx="210.8" cy="88.0" r="1.05" fill="#a1168f"/>
<circle cx="197.1" cy="92.5" r="1.05" fill="#a1168f"/>
<circle cx="249.5" cy="68.9" r="1.05" fill="#a1168f"/>
<circle cx="237.3" cy="37.2" r="1.05" fill="#a1168f"/>
<circle cx="209.5" cy="65.4" r="1.05" fill="#a1168f"/>
<circle cx="235.1" cy="70.8" r="1.05" fill="#a1168f"/>
<circle cx="207.5" cy="67.1" r="1.05" fill="#a1168f"/>
<circle cx="220.2" cy="38.9" r="1.05" fill="#a1168f"/>
<circle cx="221.4" cy="94.1" r="1.05" fill="#a1168f"/>
<circle cx="214.4" cy="98.0" r="1.05" fill="#a1168f"/>
<circle cx="226.0" cy="58.5" r="1.05" fill="#a1168f"/>
<circle cx="209.2" cy="96.1" r="1.05" fill="#a1168f"/>
<circle cx="228.1" cy="76.6" r="1.05" fill="#a1168f"/>
<circle cx="232.8" cy="85.2" r="1.05" fill="#a1168f"/>
<circle cx="211.2" cy="89.7" r="1.05" fill="#a1168f"/>
<circle cx="200.2" cy="51.4" r="1.05" fill="#a1168f"/>
<circle cx="239.4" cy="74.6" r="1.05" fill="#a1168f"/>
<circle cx="226.6" cy="103.2" r="1.05" fill="#a1168f"/>
<circle cx="233.3" cy="45.3" r="1.05" fill="#a1168f"/>
<circle cx="210.2" cy="87.3" r="1.05" fill="#a1168f"/>
<circle cx="218.7" cy="68.4" r="1.05" fill="#a1168f"/>
<circle cx="209.9" cy="95.1" r="1.05" fill="#a1168f"/>
<circle cx="211.4" cy="87.7" r="1.05" fill="#a1168f"/>
<circle cx="226.5" cy="69.1" r="1.05" fill="#a1168f"/>
<circle cx="218.6" cy="103.9" r="1.05" fill="#a1168f"/>
<circle cx="209.7" cy="88.2" r="1.05" fill="#a1168f"/>
<circle cx="207.7" cy="85.2" r="1.05" fill="#a1168f"/>
<circle cx="210.9" cy="104.9" r="1.05" fill="#a1168f"/>
<circle cx="228.8" cy="52.1" r="1.05" fill="#a1168f"/>
<circle cx="207.8" cy="74.0" r="1.05" fill="#a1168f"/>
<circle cx="201.8" cy="105.1" r="1.05" fill="#a1168f"/>
<circle cx="212.4" cy="55.8" r="1.05" fill="#a1168f"/>
<circle cx="213.9" cy="103.6" r="1.05" fill="#a1168f"/>
<circle cx="218.8" cy="85.3" r="1.05" fill="#a1168f"/>
<circle cx="205.0" cy="80.0" r="1.05" fill="#a1168f"/>
<circle cx="190.2" cy="117.0" r="1.05" fill="#a1168f"/>
<circle cx="194.4" cy="78.5" r="1.05" fill="#a1168f"/>
<circle cx="216.9" cy="86.8" r="1.05" fill="#a1168f"/>
<circle cx="205.7" cy="74.9" r="1.05" fill="#a1168f"/>
<circle cx="233.7" cy="79.2" r="1.05" fill="#a1168f"/>
<circle cx="219.5" cy="35.0" r="1.05" fill="#a1168f"/>
<circle cx="224.5" cy="77.3" r="1.05" fill="#a1168f"/>
<circle cx="220.6" cy="72.2" r="1.05" fill="#a1168f"/>
<circle cx="225.4" cy="64.4" r="1.05" fill="#a1168f"/>
<circle cx="208.6" cy="84.1" r="1.05" fill="#a1168f"/>
<circle cx="221.2" cy="85.4" r="1.05" fill="#a1168f"/>
<circle cx="216.9" cy="91.6" r="1.05" fill="#a1168f"/>
<circle cx="233.7" cy="35.0" r="1.05" fill="#a1168f"/>
<circle cx="203.3" cy="73.8" r="1.05" fill="#a1168f"/>
<circle cx="218.3" cy="74.0" r="1.05" fill="#a1168f"/>
<circle cx="212.2" cy="75.5" r="1.05" fill="#a1168f"/>
<circle cx="230.4" cy="90.1" r="1.05" fill="#a1168f"/>
<circle cx="230.5" cy="72.0" r="1.05" fill="#a1168f"/>
<circle cx="200.0" cy="88.8" r="1.05" fill="#a1168f"/>
<circle cx="225.1" cy="72.4" r="1.05" fill="#a1168f"/>
<circle cx="220.1" cy="79.9" r="1.05" fill="#a1168f"/>
<circle cx="208.1" cy="67.5" r="1.05" fill="#a1168f"/>
<circle cx="202.4" cy="72.5" r="1.05" fill="#a1168f"/>
<circle cx="220.7" cy="78.5" r="1.05" fill="#a1168f"/>
<circle cx="212.6" cy="83.9" r="1.05" fill="#a1168f"/>
<circle cx="215.4" cy="78.3" r="1.05" fill="#a1168f"/>
<circle cx="213.9" cy="109.3" r="1.05" fill="#a1168f"/>
<circle cx="185.6" cy="94.3" r="1.05" fill="#a1168f"/>
<circle cx="206.9" cy="91.8" r="1.05" fill="#a1168f"/>
<circle cx="213.5" cy="96.3" r="1.05" fill="#a1168f"/>
<circle cx="238.1" cy="61.8" r="1.05" fill="#a1168f"/>
<circle cx="213.4" cy="95.5" r="1.05" fill="#a1168f"/>
<circle cx="228.6" cy="55.2" r="1.05" fill="#a1168f"/>
<circle cx="237.2" cy="44.8" r="1.05" fill="#a1168f"/>
<circle cx="204.3" cy="103.2" r="1.05" fill="#a1168f"/>
<circle cx="235.5" cy="76.6" r="1.05" fill="#a1168f"/>
<circle cx="214.4" cy="80.6" r="1.05" fill="#a1168f"/>
<circle cx="223.1" cy="62.6" r="1.05" fill="#a1168f"/>
<circle cx="201.2" cy="96.1" r="1.05" fill="#a1168f"/>
<circle cx="191.1" cy="87.5" r="1.05" fill="#a1168f"/>
<circle cx="213.6" cy="105.2" r="1.05" fill="#a1168f"/>
<circle cx="230.7" cy="66.6" r="1.05" fill="#a1168f"/>
<circle cx="201.5" cy="92.7" r="1.05" fill="#a1168f"/>
<circle cx="207.6" cy="81.3" r="1.05" fill="#a1168f"/>
<circle cx="218.9" cy="84.6" r="1.05" fill="#a1168f"/>
<circle cx="222.0" cy="117.2" r="1.05" fill="#a1168f"/>
<circle cx="211.1" cy="70.5" r="1.05" fill="#a1168f"/>
<circle cx="229.5" cy="53.0" r="1.05" fill="#a1168f"/>
<circle cx="201.1" cy="110.4" r="1.05" fill="#a1168f"/>
<circle cx="211.1" cy="45.6" r="1.05" fill="#a1168f"/>
<circle cx="219.7" cy="86.8" r="1.05" fill="#a1168f"/>
<circle cx="192.1" cy="91.8" r="1.05" fill="#a1168f"/>
<circle cx="209.5" cy="74.1" r="1.05" fill="#a1168f"/>
<circle cx="218.6" cy="113.8" r="1.05" fill="#a1168f"/>
<circle cx="214.1" cy="66.0" r="1.05" fill="#a1168f"/>
<circle cx="207.4" cy="100.6" r="1.05" fill="#a1168f"/>
<circle cx="199.4" cy="106.3" r="1.05" fill="#a1168f"/>
<circle cx="207.2" cy="63.3" r="1.05" fill="#a1168f"/>
<circle cx="200.8" cy="95.1" r="1.05" fill="#a1168f"/>
<circle cx="205.2" cy="87.3" r="1.05" fill="#a1168f"/>
<circle cx="225.1" cy="35.6" r="1.05" fill="#a1168f"/>
<circle cx="226.2" cy="72.2" r="1.05" fill="#a1168f"/>
<circle cx="218.0" cy="79.6" r="1.05" fill="#a1168f"/>
<circle cx="221.0" cy="88.4" r="1.05" fill="#a1168f"/>
<circle cx="219.3" cy="67.5" r="1.05" fill="#a1168f"/>
<circle cx="229.1" cy="83.2" r="1.05" fill="#a1168f"/>
<circle cx="221.7" cy="68.7" r="1.05" fill="#a1168f"/>
<circle cx="204.2" cy="113.2" r="1.05" fill="#a1168f"/>
<circle cx="207.9" cy="70.1" r="1.05" fill="#a1168f"/>
<circle cx="211.7" cy="45.6" r="1.05" fill="#a1168f"/>
<circle cx="223.6" cy="84.5" r="1.05" fill="#a1168f"/>
<circle cx="214.2" cy="71.3" r="1.05" fill="#a1168f"/>
<circle cx="222.4" cy="76.9" r="1.05" fill="#a1168f"/>
<circle cx="228.5" cy="65.8" r="1.05" fill="#a1168f"/>
<circle cx="209.0" cy="108.6" r="1.05" fill="#a1168f"/>
<circle cx="218.1" cy="82.6" r="1.05" fill="#a1168f"/>
<circle cx="215.0" cy="86.7" r="1.05" fill="#a1168f"/>
<circle cx="226.5" cy="51.3" r="1.05" fill="#a1168f"/>
<circle cx="205.8" cy="104.0" r="1.05" fill="#a1168f"/>
<circle cx="220.1" cy="51.7" r="1.05" fill="#a1168f"/>
<circle cx="221.4" cy="65.6" r="1.05" fill="#a1168f"/>
<circle cx="195.9" cy="98.2" r="1.05" fill="#a1168f"/>
<circle cx="223.8" cy="65.8" r="1.05" fill="#a1168f"/>
<circle cx="215.5" cy="68.7" r="1.05" fill="#a1168f"/>
<circle cx="227.6" cy="67.9" r="1.05" fill="#a1168f"/>
<circle cx="205.6" cy="104.6" r="1.05" fill="#a1168f"/>
<circle cx="218.5" cy="78.5" r="1.05" fill="#a1168f"/>
<circle cx="213.1" cy="62.4" r="1.05" fill="#a1168f"/>
<circle cx="206.4" cy="88.0" r="1.05" fill="#a1168f"/>
<circle cx="224.7" cy="86.7" r="1.05" fill="#a1168f"/>
<circle cx="185.4" cy="104.5" r="1.05" fill="#a1168f"/>
<circle cx="226.9" cy="80.5" r="1.05" fill="#a1168f"/>
<circle cx="212.1" cy="108.3" r="1.05" fill="#a1168f"/>
<circle cx="232.2" cy="98.4" r="1.05" fill="#a1168f"/>
<circle cx="206.2" cy="86.8" r="1.05" fill="#a1168f"/>
<circle cx="242.8" cy="56.8" r="1.05" fill="#a1168f"/>
<circle cx="205.5" cy="105.8" r="1.05" fill="#a1168f"/>
<circle cx="211.2" cy="99.3" r="1.05" fill="#a1168f"/>
<circle cx="206.8" cy="83.1" r="1.05" fill="#a1168f"/>
<circle cx="232.5" cy="86.5" r="1.05" fill="#a1168f"/>
<circle cx="234.6" cy="101.1" r="1.05" fill="#a1168f"/>
<circle cx="242.6" cy="72.2" r="1.05" fill="#a1168f"/>
<circle cx="210.3" cy="88.5" r="1.05" fill="#a1168f"/>
<circle cx="218.7" cy="76.5" r="1.05" fill="#a1168f"/>
<circle cx="210.9" cy="91.5" r="1.05" fill="#a1168f"/>
<circle cx="207.9" cy="82.3" r="1.05" fill="#a1168f"/>
<circle cx="208.0" cy="93.0" r="1.05" fill="#a1168f"/>
<circle cx="195.4" cy="91.4" r="1.05" fill="#a1168f"/>
<circle cx="222.3" cy="90.3" r="1.05" fill="#a1168f"/>
<circle cx="229.4" cy="69.0" r="1.05" fill="#a1168f"/>
<circle cx="216.9" cy="104.0" r="1.05" fill="#a1168f"/>
<circle cx="224.1" cy="50.6" r="1.05" fill="#a1168f"/>
<circle cx="242.5" cy="71.5" r="1.05" fill="#a1168f"/>
<circle cx="214.7" cy="66.9" r="1.05" fill="#a1168f"/>
<circle cx="222.9" cy="83.5" r="1.05" fill="#a1168f"/>
<circle cx="216.4" cy="61.8" r="1.05" fill="#a1168f"/>
<circle cx="223.3" cy="73.5" r="1.05" fill="#a1168f"/>
<circle cx="230.0" cy="94.5" r="1.05" fill="#a1168f"/>
<circle cx="221.6" cy="84.6" r="1.05" fill="#a1168f"/>
<circle cx="210.5" cy="69.3" r="1.05" fill="#a1168f"/>
<circle cx="239.7" cy="52.4" r="1.05" fill="#a1168f"/>
<circle cx="217.3" cy="50.4" r="1.05" fill="#a1168f"/>
<circle cx="226.0" cy="108.7" r="1.05" fill="#a1168f"/>
<circle cx="207.2" cy="93.0" r="1.05" fill="#a1168f"/>
<circle cx="206.2" cy="105.3" r="1.05" fill="#a1168f"/>
<circle cx="224.6" cy="68.6" r="1.05" fill="#a1168f"/>
<circle cx="239.7" cy="66.5" r="1.05" fill="#a1168f"/>
<circle cx="217.3" cy="88.3" r="1.05" fill="#a1168f"/>
<circle cx="229.8" cy="45.3" r="1.05" fill="#a1168f"/>
<circle cx="238.9" cy="41.9" r="1.05" fill="#a1168f"/>
<circle cx="207.7" cy="65.6" r="1.05" fill="#a1168f"/>
<circle cx="203.2" cy="94.4" r="1.05" fill="#a1168f"/>
<circle cx="213.2" cy="47.4" r="1.05" fill="#a1168f"/>
<circle cx="206.1" cy="97.9" r="1.05" fill="#a1168f"/>
<circle cx="219.1" cy="55.9" r="1.05" fill="#a1168f"/>
<circle cx="223.6" cy="62.6" r="1.05" fill="#a1168f"/>
<circle cx="204.3" cy="90.5" r="1.05" fill="#a1168f"/>
<circle cx="233.5" cy="63.0" r="1.05" fill="#a1168f"/>
<circle cx="207.0" cy="88.2" r="1.05" fill="#a1168f"/>
<circle cx="234.4" cy="32.6" r="1.05" fill="#a1168f"/>
<circle cx="221.6" cy="86.6" r="1.05" fill="#a1168f"/>
<circle cx="238.9" cy="73.4" r="1.05" fill="#a1168f"/>
<circle cx="217.4" cy="69.3" r="1.05" fill="#a1168f"/>
<circle cx="215.9" cy="79.7" r="1.05" fill="#a1168f"/>
<circle cx="238.2" cy="55.5" r="1.05" fill="#a1168f"/>
<circle cx="196.4" cy="97.8" r="1.05" fill="#a1168f"/>
<circle cx="234.1" cy="67.5" r="1.05" fill="#a1168f"/>
<circle cx="202.0" cy="74.4" r="1.05" fill="#a1168f"/>
<circle cx="222.7" cy="71.5" r="1.05" fill="#a1168f"/>
<circle cx="223.9" cy="77.7" r="1.05" fill="#a1168f"/>
<circle cx="218.5" cy="65.9" r="1.05" fill="#a1168f"/>
<circle cx="208.4" cy="64.3" r="1.05" fill="#a1168f"/>
<circle cx="201.7" cy="59.3" r="1.05" fill="#a1168f"/>
<circle cx="217.1" cy="70.2" r="1.05" fill="#a1168f"/>
<circle cx="199.5" cy="78.2" r="1.05" fill="#a1168f"/>
<circle cx="204.7" cy="77.9" r="1.05" fill="#a1168f"/>
<circle cx="216.3" cy="89.2" r="1.05" fill="#a1168f"/>
<circle cx="240.3" cy="56.7" r="1.05" fill="#a1168f"/>
<circle cx="209.0" cy="86.8" r="1.05" fill="#a1168f"/>
<circle cx="220.5" cy="72.8" r="1.05" fill="#a1168f"/>
<circle cx="227.8" cy="78.4" r="1.05" fill="#a1168f"/>
<circle cx="219.1" cy="82.4" r="1.05" fill="#a1168f"/>
<circle cx="206.5" cy="72.0" r="1.05" fill="#a1168f"/>
<circle cx="205.1" cy="106.8" r="1.05" fill="#a1168f"/>
<circle cx="225.1" cy="79.1" r="1.05" fill="#a1168f"/>
<circle cx="223.9" cy="62.5" r="1.05" fill="#a1168f"/>
<circle cx="223.1" cy="70.5" r="1.05" fill="#a1168f"/>
<circle cx="237.4" cy="81.5" r="1.05" fill="#a1168f"/>
<circle cx="232.1" cy="68.1" r="1.05" fill="#a1168f"/>
<circle cx="220.3" cy="80.5" r="1.05" fill="#a1168f"/>
<circle cx="228.0" cy="59.9" r="1.05" fill="#a1168f"/>
<circle cx="210.2" cy="79.9" r="1.05" fill="#a1168f"/>
<circle cx="222.9" cy="74.1" r="1.05" fill="#a1168f"/>
<circle cx="250.1" cy="41.1" r="1.05" fill="#a1168f"/>
<circle cx="211.0" cy="65.2" r="1.05" fill="#a1168f"/>
<circle cx="220.0" cy="82.0" r="1.05" fill="#a1168f"/>
<circle cx="211.7" cy="103.1" r="1.05" fill="#a1168f"/>
<circle cx="226.7" cy="43.3" r="1.05" fill="#a1168f"/>
<circle cx="215.3" cy="89.2" r="1.05" fill="#a1168f"/>
<circle cx="192.9" cy="107.0" r="1.05" fill="#a1168f"/>
<circle cx="216.4" cy="86.1" r="1.05" fill="#a1168f"/>
<circle cx="214.2" cy="90.4" r="1.05" fill="#a1168f"/>
<circle cx="214.2" cy="81.2" r="1.05" fill="#a1168f"/>
<circle cx="218.9" cy="73.1" r="1.05" fill="#a1168f"/>
<circle cx="219.0" cy="87.3" r="1.05" fill="#a1168f"/>
<circle cx="212.5" cy="97.0" r="1.05" fill="#a1168f"/>
<circle cx="209.5" cy="81.6" r="1.05" fill="#a1168f"/>
<circle cx="222.2" cy="94.2" r="1.05" fill="#a1168f"/>
<circle cx="203.4" cy="92.5" r="1.05" fill="#a1168f"/>
<circle cx="199.9" cy="91.5" r="1.05" fill="#a1168f"/>
<circle cx="213.6" cy="89.0" r="1.05" fill="#a1168f"/>
<circle cx="238.3" cy="69.2" r="1.05" fill="#a1168f"/>
<circle cx="219.6" cy="102.4" r="1.05" fill="#a1168f"/>
<circle cx="227.5" cy="63.2" r="1.05" fill="#a1168f"/>
<circle cx="219.0" cy="108.4" r="1.05" fill="#a1168f"/>
<circle cx="215.4" cy="87.4" r="1.05" fill="#a1168f"/>
<circle cx="221.7" cy="73.3" r="1.05" fill="#a1168f"/>
<circle cx="209.0" cy="88.2" r="1.05" fill="#a1168f"/>
<circle cx="232.9" cy="45.3" r="1.05" fill="#a1168f"/>
<circle cx="192.9" cy="98.0" r="1.05" fill="#a1168f"/>
<circle cx="224.7" cy="77.6" r="1.05" fill="#a1168f"/>
<circle cx="220.4" cy="78.9" r="1.05" fill="#a1168f"/>
<circle cx="238.3" cy="47.8" r="1.05" fill="#a1168f"/>
<circle cx="213.7" cy="57.2" r="1.05" fill="#a1168f"/>
<circle cx="225.0" cy="42.4" r="1.05" fill="#a1168f"/>
<circle cx="209.9" cy="102.7" r="1.05" fill="#a1168f"/>
<circle cx="226.9" cy="68.6" r="1.05" fill="#a1168f"/>
<circle cx="217.4" cy="74.8" r="1.05" fill="#a1168f"/>
<circle cx="205.2" cy="90.8" r="1.05" fill="#a1168f"/>
<circle cx="217.6" cy="97.4" r="1.05" fill="#a1168f"/>
<circle cx="233.1" cy="88.4" r="1.05" fill="#a1168f"/>
<circle cx="216.5" cy="76.4" r="1.05" fill="#a1168f"/>
<circle cx="209.3" cy="92.6" r="1.05" fill="#a1168f"/>
<circle cx="227.7" cy="96.4" r="1.05" fill="#a1168f"/>
<circle cx="215.9" cy="52.3" r="1.05" fill="#a1168f"/>
<circle cx="205.6" cy="105.4" r="1.05" fill="#a1168f"/>
<circle cx="205.4" cy="100.5" r="1.05" fill="#a1168f"/>
<circle cx="204.6" cy="97.2" r="1.05" fill="#a1168f"/>
<circle cx="223.8" cy="71.2" r="1.05" fill="#a1168f"/>
<circle cx="201.9" cy="69.9" r="1.05" fill="#a1168f"/>
<circle cx="202.5" cy="67.0" r="1.05" fill="#a1168f"/>
<circle cx="209.1" cy="95.2" r="1.05" fill="#a1168f"/>
<circle cx="209.5" cy="61.1" r="1.05" fill="#a1168f"/>
<circle cx="217.4" cy="76.8" r="1.05" fill="#a1168f"/>
<circle cx="193.0" cy="93.5" r="1.05" fill="#a1168f"/>
<circle cx="211.4" cy="86.0" r="1.05" fill="#a1168f"/>
<circle cx="204.9" cy="106.8" r="1.05" fill="#a1168f"/>
<circle cx="233.0" cy="83.3" r="1.05" fill="#a1168f"/>
<circle cx="223.8" cy="62.6" r="1.05" fill="#a1168f"/>
<circle cx="217.8" cy="74.0" r="1.05" fill="#a1168f"/>
<circle cx="224.4" cy="77.5" r="1.05" fill="#a1168f"/>
<circle cx="214.5" cy="73.5" r="1.05" fill="#a1168f"/>
<circle cx="218.2" cy="80.8" r="1.05" fill="#a1168f"/>
<circle cx="178.8" cy="103.4" r="1.05" fill="#a1168f"/>
<circle cx="198.5" cy="74.6" r="1.05" fill="#a1168f"/>
<circle cx="232.7" cy="61.6" r="1.05" fill="#a1168f"/>
<circle cx="219.1" cy="107.7" r="1.05" fill="#a1168f"/>
<circle cx="213.1" cy="91.1" r="1.05" fill="#a1168f"/>
<circle cx="240.6" cy="86.1" r="1.05" fill="#a1168f"/>
<circle cx="246.3" cy="60.2" r="1.05" fill="#a1168f"/>
<circle cx="187.6" cy="76.9" r="1.05" fill="#a1168f"/>
<circle cx="212.6" cy="74.3" r="1.05" fill="#a1168f"/>
<circle cx="230.7" cy="95.4" r="1.05" fill="#a1168f"/>
<circle cx="209.0" cy="80.3" r="1.05" fill="#a1168f"/>
<circle cx="233.0" cy="68.8" r="1.05" fill="#a1168f"/>
<circle cx="223.7" cy="101.4" r="1.05" fill="#a1168f"/>
<circle cx="222.8" cy="88.0" r="1.05" fill="#a1168f"/>
<circle cx="210.8" cy="79.4" r="1.05" fill="#a1168f"/>
<circle cx="227.9" cy="81.0" r="1.05" fill="#a1168f"/>
<circle cx="221.6" cy="78.6" r="1.05" fill="#a1168f"/>
<circle cx="224.3" cy="79.2" r="1.05" fill="#a1168f"/>
<circle cx="234.9" cy="83.4" r="1.05" fill="#a1168f"/>
<circle cx="201.4" cy="70.5" r="1.05" fill="#a1168f"/>
<circle cx="205.7" cy="75.3" r="1.05" fill="#a1168f"/>
<circle cx="225.3" cy="99.5" r="1.05" fill="#a1168f"/>
<circle cx="211.6" cy="87.4" r="1.05" fill="#a1168f"/>
<circle cx="214.0" cy="101.3" r="1.05" fill="#a1168f"/>
<circle cx="218.1" cy="72.7" r="1.05" fill="#a1168f"/>
<circle cx="200.5" cy="87.8" r="1.05" fill="#a1168f"/>
<circle cx="218.6" cy="102.8" r="1.05" fill="#a1168f"/>
<circle cx="214.7" cy="64.5" r="1.05" fill="#a1168f"/>
<circle cx="225.8" cy="89.2" r="1.05" fill="#a1168f"/>
<circle cx="205.0" cy="84.8" r="1.05" fill="#a1168f"/>
<circle cx="221.1" cy="60.7" r="1.05" fill="#a1168f"/>
<circle cx="216.7" cy="64.5" r="1.05" fill="#a1168f"/>
<circle cx="206.4" cy="58.4" r="1.05" fill="#a1168f"/>
<circle cx="213.0" cy="94.1" r="1.05" fill="#a1168f"/>
<circle cx="207.6" cy="108.9" r="1.05" fill="#a1168f"/>
<circle cx="205.0" cy="89.5" r="1.05" fill="#a1168f"/>
<circle cx="222.0" cy="55.1" r="1.05" fill="#a1168f"/>
<circle cx="203.6" cy="96.4" r="1.05" fill="#a1168f"/>
<circle cx="224.8" cy="54.4" r="1.05" fill="#a1168f"/>
<circle cx="225.7" cy="66.9" r="1.05" fill="#a1168f"/>
<circle cx="199.3" cy="96.2" r="1.05" fill="#a1168f"/>
<circle cx="193.8" cy="101.5" r="1.05" fill="#a1168f"/>
<circle cx="232.2" cy="38.7" r="1.05" fill="#a1168f"/>
<circle cx="211.3" cy="72.3" r="1.05" fill="#a1168f"/>
<circle cx="233.6" cy="85.4" r="1.05" fill="#a1168f"/>
<circle cx="196.3" cy="99.6" r="1.05" fill="#a1168f"/>
<circle cx="186.1" cy="91.0" r="1.05" fill="#a1168f"/>
<circle cx="213.7" cy="84.1" r="1.05" fill="#a1168f"/>
<circle cx="215.6" cy="70.9" r="1.05" fill="#a1168f"/>
<circle cx="214.5" cy="98.0" r="1.05" fill="#a1168f"/>
<circle cx="223.6" cy="82.0" r="1.05" fill="#a1168f"/>
<circle cx="218.7" cy="87.5" r="1.05" fill="#a1168f"/>
<circle cx="215.0" cy="103.0" r="1.05" fill="#a1168f"/>
<circle cx="216.5" cy="82.8" r="1.05" fill="#a1168f"/>
<circle cx="229.4" cy="83.5" r="1.05" fill="#a1168f"/>
<circle cx="202.6" cy="78.2" r="1.05" fill="#a1168f"/>
<circle cx="187.6" cy="90.8" r="1.05" fill="#a1168f"/>
<circle cx="213.4" cy="87.3" r="1.05" fill="#a1168f"/>
<circle cx="215.9" cy="83.0" r="1.05" fill="#a1168f"/>
<circle cx="202.0" cy="78.5" r="1.05" fill="#a1168f"/>
<circle cx="202.3" cy="86.3" r="1.05" fill="#a1168f"/>
<circle cx="211.8" cy="92.5" r="1.05" fill="#a1168f"/>
<circle cx="205.8" cy="81.7" r="1.05" fill="#a1168f"/>
<circle cx="209.5" cy="63.6" r="1.05" fill="#a1168f"/>
<circle cx="226.2" cy="79.4" r="1.05" fill="#a1168f"/>
<circle cx="228.1" cy="111.5" r="1.05" fill="#a1168f"/>
<circle cx="237.8" cy="88.6" r="1.05" fill="#a1168f"/>
<circle cx="196.8" cy="77.9" r="1.05" fill="#a1168f"/>
<circle cx="192.1" cy="103.6" r="1.05" fill="#a1168f"/>
<circle cx="218.8" cy="109.8" r="1.05" fill="#a1168f"/>
<circle cx="212.3" cy="67.8" r="1.05" fill="#a1168f"/>
<circle cx="204.6" cy="66.3" r="1.05" fill="#a1168f"/>
<circle cx="202.2" cy="69.0" r="1.05" fill="#a1168f"/>
<circle cx="220.0" cy="73.9" r="1.05" fill="#a1168f"/>
<circle cx="211.1" cy="96.6" r="1.05" fill="#a1168f"/>
<circle cx="228.9" cy="90.7" r="1.05" fill="#a1168f"/>
<circle cx="214.4" cy="69.0" r="1.05" fill="#a1168f"/>
<circle cx="220.9" cy="64.4" r="1.05" fill="#a1168f"/>
<circle cx="205.7" cy="103.5" r="1.05" fill="#a1168f"/>
<circle cx="217.5" cy="80.3" r="1.05" fill="#a1168f"/>
<circle cx="229.0" cy="104.5" r="1.05" fill="#a1168f"/>
<circle cx="214.1" cy="74.0" r="1.05" fill="#a1168f"/>
<circle cx="207.9" cy="107.3" r="1.05" fill="#a1168f"/>
<circle cx="214.6" cy="63.9" r="1.05" fill="#a1168f"/>
<line x1="168.23" y1="110.57" x2="253.80" y2="52.18" stroke="#2a2a2a" stroke-width="0.9" />
</g>
<rect x="165.50" y="30.60" width="90.90" height="93.00" fill="none" stroke="#4a4a4a" stroke-width="0.9" />
<line x1="163.00" y1="121.40" x2="165.50" y2="121.40" stroke="#333" stroke-width="0.8" />
<text x="162.50" y="124.40" font-size="8.5" text-anchor="end" fill="#333" stroke="#333" >2</text>
<line x1="163.00" y1="94.60" x2="165.50" y2="94.60" stroke="#333" stroke-width="0.8" />
<text x="162.50" y="97.60" font-size="8.5" text-anchor="end" fill="#333" stroke="#333" >4</text>
<line x1="163.00" y1="67.80" x2="165.50" y2="67.80" stroke="#333" stroke-width="0.8" />
<text x="162.50" y="70.80" font-size="8.5" text-anchor="end" fill="#333" stroke="#333" >6</text>
<line x1="163.00" y1="41.00" x2="165.50" y2="41.00" stroke="#333" stroke-width="0.8" />
<text x="162.50" y="44.00" font-size="8.5" text-anchor="end" fill="#333" stroke="#333" >8</text>
<line x1="172.10" y1="123.60" x2="172.10" y2="126.10" stroke="#333" stroke-width="0.8" />
<text x="172.10" y="134.50" font-size="8.5" text-anchor="middle" fill="#333" stroke="#333" >-2.5</text>
<line x1="193.60" y1="123.60" x2="193.60" y2="126.10" stroke="#333" stroke-width="0.8" />
<text x="193.60" y="134.50" font-size="8.5" text-anchor="middle" fill="#333" stroke="#333" >0.0</text>
<line x1="215.10" y1="123.60" x2="215.10" y2="126.10" stroke="#333" stroke-width="0.8" />
<text x="215.10" y="134.50" font-size="8.5" text-anchor="middle" fill="#333" stroke="#333" >2.5</text>
<line x1="236.60" y1="123.60" x2="236.60" y2="126.10" stroke="#333" stroke-width="0.8" />
<text x="236.60" y="134.50" font-size="8.5" text-anchor="middle" fill="#333" stroke="#333" >5.0</text>
<text x="211.00" y="29.20" font-size="9" text-anchor="middle" fill="#111"  >LIHC TCGA</text>
<text x="167.30" y="37.10" font-size="6.1" text-anchor="start" fill="#3a3a3a"  >Pearson</text>
<text x="167.30" y="42.80" font-size="6.1" text-anchor="start" fill="#3a3a3a"  >P &lt; 0.001</text>
<text x="167.30" y="48.50" font-size="6.1" text-anchor="start" fill="#3a3a3a"  >R=0.579</text>
<text x="167.30" y="54.20" font-size="6.1" text-anchor="start" fill="#3a3a3a"  >N=369</text>
<text x="210.95" y="143.60" font-size="8.3" text-anchor="middle" fill="#222"  >FOXM1 expresssion</text>
<text transform="translate(155.90,79.60) rotate(-90)" font-size="8.1" text-anchor="middle" fill="#222" stroke="#222">HMGA1 expression</text>
<g>
<polygon points="290.0,105.2 294.1,103.0 298.2,100.7 302.3,98.3 306.4,95.8 310.5,93.3 314.6,90.7 318.7,88.1 322.8,85.3 326.9,82.5 331.0,79.6 335.1,76.7 339.2,73.6 343.3,70.5 347.4,67.3 351.5,64.1 355.6,60.8 359.7,57.4 363.8,53.9 367.9,50.3 372.0,46.7 372.0,57.2 367.9,59.4 363.8,61.7 359.7,64.1 355.6,66.6 351.5,69.1 347.4,71.7 343.3,74.3 339.2,77.1 335.1,79.9 331.0,82.8 326.9,85.7 322.8,88.8 318.7,91.9 314.6,95.0 310.5,98.3 306.4,101.6 302.3,105.0 298.2,108.5 294.1,112.1 290.0,115.7" fill="#dcdcdc" opacity="0.6"/>
<circle cx="332.0" cy="83.3" r="1.05" fill="#a1168f"/>
<circle cx="345.9" cy="75.2" r="1.05" fill="#a1168f"/>
<circle cx="332.5" cy="88.6" r="1.05" fill="#a1168f"/>
<circle cx="347.7" cy="71.4" r="1.05" fill="#a1168f"/>
<circle cx="336.1" cy="83.5" r="1.05" fill="#a1168f"/>
<circle cx="320.6" cy="88.6" r="1.05" fill="#a1168f"/>
<circle cx="333.8" cy="79.9" r="1.05" fill="#a1168f"/>
<circle cx="354.6" cy="67.8" r="1.05" fill="#a1168f"/>
<circle cx="340.7" cy="69.1" r="1.05" fill="#a1168f"/>
<circle cx="340.2" cy="74.3" r="1.05" fill="#a1168f"/>
<circle cx="332.1" cy="85.3" r="1.05" fill="#a1168f"/>
<circle cx="328.1" cy="79.1" r="1.05" fill="#a1168f"/>
<circle cx="353.0" cy="69.4" r="1.05" fill="#a1168f"/>
<circle cx="341.3" cy="76.4" r="1.05" fill="#a1168f"/>
<circle cx="365.8" cy="47.5" r="1.05" fill="#a1168f"/>
<circle cx="341.8" cy="69.1" r="1.05" fill="#a1168f"/>
<circle cx="354.5" cy="71.8" r="1.05" fill="#a1168f"/>
<circle cx="348.5" cy="64.2" r="1.05" fill="#a1168f"/>
<circle cx="343.4" cy="67.0" r="1.05" fill="#a1168f"/>
<circle cx="353.6" cy="64.4" r="1.05" fill="#a1168f"/>
<circle cx="340.2" cy="68.8" r="1.05" fill="#a1168f"/>
<circle cx="344.7" cy="68.3" r="1.05" fill="#a1168f"/>
<circle cx="360.2" cy="56.6" r="1.05" fill="#a1168f"/>
<circle cx="342.9" cy="80.5" r="1.05" fill="#a1168f"/>
<circle cx="346.6" cy="67.1" r="1.05" fill="#a1168f"/>
<circle cx="348.6" cy="64.2" r="1.05" fill="#a1168f"/>
<circle cx="349.6" cy="65.7" r="1.05" fill="#a1168f"/>
<circle cx="344.7" cy="67.1" r="1.05" fill="#a1168f"/>
<circle cx="337.6" cy="81.4" r="1.05" fill="#a1168f"/>
<circle cx="335.0" cy="77.2" r="1.05" fill="#a1168f"/>
<circle cx="328.4" cy="84.8" r="1.05" fill="#a1168f"/>
<circle cx="341.9" cy="71.0" r="1.05" fill="#a1168f"/>
<circle cx="334.7" cy="77.7" r="1.05" fill="#a1168f"/>
<circle cx="343.9" cy="74.8" r="1.05" fill="#a1168f"/>
<circle cx="344.1" cy="72.4" r="1.05" fill="#a1168f"/>
<circle cx="334.0" cy="80.3" r="1.05" fill="#a1168f"/>
<circle cx="335.8" cy="67.0" r="1.05" fill="#a1168f"/>
<circle cx="341.5" cy="76.9" r="1.05" fill="#a1168f"/>
<circle cx="331.2" cy="80.6" r="1.05" fill="#a1168f"/>
<circle cx="346.7" cy="69.1" r="1.05" fill="#a1168f"/>
<circle cx="331.8" cy="85.2" r="1.05" fill="#a1168f"/>
<circle cx="334.3" cy="77.3" r="1.05" fill="#a1168f"/>
<circle cx="336.4" cy="77.3" r="1.05" fill="#a1168f"/>
<circle cx="358.8" cy="75.6" r="1.05" fill="#a1168f"/>
<circle cx="341.3" cy="73.4" r="1.05" fill="#a1168f"/>
<circle cx="330.6" cy="75.9" r="1.05" fill="#a1168f"/>
<circle cx="341.2" cy="71.1" r="1.05" fill="#a1168f"/>
<circle cx="348.5" cy="58.4" r="1.05" fill="#a1168f"/>
<circle cx="338.0" cy="79.2" r="1.05" fill="#a1168f"/>
<circle cx="332.6" cy="85.8" r="1.05" fill="#a1168f"/>
<circle cx="359.0" cy="64.2" r="1.05" fill="#a1168f"/>
<circle cx="328.7" cy="79.2" r="1.05" fill="#a1168f"/>
<circle cx="358.6" cy="68.6" r="1.05" fill="#a1168f"/>
<circle cx="343.1" cy="80.7" r="1.05" fill="#a1168f"/>
<circle cx="326.3" cy="85.0" r="1.05" fill="#a1168f"/>
<circle cx="333.3" cy="85.2" r="1.05" fill="#a1168f"/>
<circle cx="343.6" cy="69.2" r="1.05" fill="#a1168f"/>
<circle cx="341.6" cy="65.3" r="1.05" fill="#a1168f"/>
<circle cx="337.9" cy="77.7" r="1.05" fill="#a1168f"/>
<circle cx="351.0" cy="50.2" r="1.05" fill="#a1168f"/>
<circle cx="360.9" cy="51.3" r="1.05" fill="#a1168f"/>
<circle cx="344.6" cy="79.6" r="1.05" fill="#a1168f"/>
<circle cx="356.1" cy="63.3" r="1.05" fill="#a1168f"/>
<circle cx="363.5" cy="56.8" r="1.05" fill="#a1168f"/>
<circle cx="326.6" cy="79.0" r="1.05" fill="#a1168f"/>
<circle cx="344.9" cy="74.3" r="1.05" fill="#a1168f"/>
<circle cx="344.8" cy="70.8" r="1.05" fill="#a1168f"/>
<circle cx="346.0" cy="81.8" r="1.05" fill="#a1168f"/>
<circle cx="343.6" cy="68.8" r="1.05" fill="#a1168f"/>
<circle cx="332.7" cy="72.9" r="1.05" fill="#a1168f"/>
<circle cx="342.1" cy="85.4" r="1.05" fill="#a1168f"/>
<circle cx="357.3" cy="64.8" r="1.05" fill="#a1168f"/>
<circle cx="343.9" cy="72.7" r="1.05" fill="#a1168f"/>
<circle cx="360.3" cy="59.3" r="1.05" fill="#a1168f"/>
<circle cx="337.4" cy="79.8" r="1.05" fill="#a1168f"/>
<circle cx="348.4" cy="64.0" r="1.05" fill="#a1168f"/>
<circle cx="337.7" cy="70.5" r="1.05" fill="#a1168f"/>
<circle cx="337.5" cy="75.1" r="1.05" fill="#a1168f"/>
<circle cx="348.1" cy="66.4" r="1.05" fill="#a1168f"/>
<circle cx="345.8" cy="68.2" r="1.05" fill="#a1168f"/>
<circle cx="339.1" cy="73.5" r="1.05" fill="#a1168f"/>
<circle cx="346.4" cy="77.9" r="1.05" fill="#a1168f"/>
<circle cx="331.1" cy="79.1" r="1.05" fill="#a1168f"/>
<circle cx="343.2" cy="70.8" r="1.05" fill="#a1168f"/>
<circle cx="350.0" cy="64.3" r="1.05" fill="#a1168f"/>
<circle cx="338.8" cy="72.0" r="1.05" fill="#a1168f"/>
<circle cx="337.4" cy="66.4" r="1.05" fill="#a1168f"/>
<circle cx="352.5" cy="65.1" r="1.05" fill="#a1168f"/>
<circle cx="337.8" cy="72.9" r="1.05" fill="#a1168f"/>
<circle cx="342.1" cy="77.4" r="1.05" fill="#a1168f"/>
<circle cx="348.0" cy="67.7" r="1.05" fill="#a1168f"/>
<circle cx="351.0" cy="67.6" r="1.05" fill="#a1168f"/>
<circle cx="360.1" cy="45.4" r="1.05" fill="#a1168f"/>
<circle cx="329.8" cy="91.2" r="1.05" fill="#a1168f"/>
<circle cx="335.4" cy="69.2" r="1.05" fill="#a1168f"/>
<circle cx="349.2" cy="66.6" r="1.05" fill="#a1168f"/>
<circle cx="345.9" cy="77.9" r="1.05" fill="#a1168f"/>
<circle cx="345.2" cy="77.1" r="1.05" fill="#a1168f"/>
<circle cx="345.5" cy="72.4" r="1.05" fill="#a1168f"/>
<circle cx="339.1" cy="77.8" r="1.05" fill="#a1168f"/>
<circle cx="348.7" cy="54.6" r="1.05" fill="#a1168f"/>
<circle cx="328.7" cy="78.9" r="1.05" fill="#a1168f"/>
<circle cx="340.1" cy="65.0" r="1.05" fill="#a1168f"/>
<circle cx="353.2" cy="70.8" r="1.05" fill="#a1168f"/>
<circle cx="344.3" cy="61.9" r="1.05" fill="#a1168f"/>
<circle cx="357.9" cy="66.1" r="1.05" fill="#a1168f"/>
<circle cx="334.9" cy="76.3" r="1.05" fill="#a1168f"/>
<circle cx="355.1" cy="56.1" r="1.05" fill="#a1168f"/>
<circle cx="346.4" cy="66.0" r="1.05" fill="#a1168f"/>
<circle cx="348.1" cy="67.8" r="1.05" fill="#a1168f"/>
<circle cx="335.7" cy="73.4" r="1.05" fill="#a1168f"/>
<circle cx="347.2" cy="63.0" r="1.05" fill="#a1168f"/>
<circle cx="343.3" cy="75.0" r="1.05" fill="#a1168f"/>
<circle cx="350.0" cy="60.9" r="1.05" fill="#a1168f"/>
<circle cx="359.0" cy="71.3" r="1.05" fill="#a1168f"/>
<circle cx="339.6" cy="75.9" r="1.05" fill="#a1168f"/>
<circle cx="362.1" cy="77.7" r="1.05" fill="#a1168f"/>
<circle cx="351.6" cy="71.5" r="1.05" fill="#a1168f"/>
<circle cx="334.6" cy="73.7" r="1.05" fill="#a1168f"/>
<circle cx="350.1" cy="89.4" r="1.05" fill="#a1168f"/>
<circle cx="332.8" cy="79.4" r="1.05" fill="#a1168f"/>
<circle cx="339.1" cy="68.4" r="1.05" fill="#a1168f"/>
<circle cx="336.3" cy="78.4" r="1.05" fill="#a1168f"/>
<circle cx="324.5" cy="83.2" r="1.05" fill="#a1168f"/>
<circle cx="343.6" cy="67.0" r="1.05" fill="#a1168f"/>
<circle cx="337.3" cy="65.9" r="1.05" fill="#a1168f"/>
<circle cx="337.7" cy="66.1" r="1.05" fill="#a1168f"/>
<circle cx="359.0" cy="68.1" r="1.05" fill="#a1168f"/>
<circle cx="345.0" cy="75.0" r="1.05" fill="#a1168f"/>
<circle cx="327.7" cy="80.7" r="1.05" fill="#a1168f"/>
<circle cx="343.4" cy="63.5" r="1.05" fill="#a1168f"/>
<circle cx="356.9" cy="75.7" r="1.05" fill="#a1168f"/>
<circle cx="340.5" cy="71.7" r="1.05" fill="#a1168f"/>
<circle cx="350.5" cy="65.8" r="1.05" fill="#a1168f"/>
<circle cx="336.4" cy="78.4" r="1.05" fill="#a1168f"/>
<circle cx="348.7" cy="77.3" r="1.05" fill="#a1168f"/>
<circle cx="331.3" cy="87.1" r="1.05" fill="#a1168f"/>
<circle cx="337.1" cy="69.4" r="1.05" fill="#a1168f"/>
<circle cx="338.8" cy="71.5" r="1.05" fill="#a1168f"/>
<circle cx="354.5" cy="55.3" r="1.05" fill="#a1168f"/>
<circle cx="344.8" cy="72.0" r="1.05" fill="#a1168f"/>
<circle cx="342.4" cy="75.0" r="1.05" fill="#a1168f"/>
<circle cx="336.5" cy="74.6" r="1.05" fill="#a1168f"/>
<circle cx="350.6" cy="71.3" r="1.05" fill="#a1168f"/>
<circle cx="335.0" cy="78.4" r="1.05" fill="#a1168f"/>
<circle cx="342.9" cy="67.8" r="1.05" fill="#a1168f"/>
<circle cx="344.4" cy="70.9" r="1.05" fill="#a1168f"/>
<circle cx="329.6" cy="84.4" r="1.05" fill="#a1168f"/>
<circle cx="339.9" cy="78.6" r="1.05" fill="#a1168f"/>
<circle cx="346.6" cy="70.0" r="1.05" fill="#a1168f"/>
<circle cx="336.0" cy="75.3" r="1.05" fill="#a1168f"/>
<circle cx="352.5" cy="48.5" r="1.05" fill="#a1168f"/>
<circle cx="342.1" cy="76.2" r="1.05" fill="#a1168f"/>
<circle cx="350.0" cy="55.7" r="1.05" fill="#a1168f"/>
<circle cx="338.0" cy="72.5" r="1.05" fill="#a1168f"/>
<circle cx="340.8" cy="68.8" r="1.05" fill="#a1168f"/>
<circle cx="336.7" cy="79.4" r="1.05" fill="#a1168f"/>
<circle cx="340.4" cy="75.4" r="1.05" fill="#a1168f"/>
<circle cx="331.9" cy="81.8" r="1.05" fill="#a1168f"/>
<circle cx="335.7" cy="67.7" r="1.05" fill="#a1168f"/>
<circle cx="354.4" cy="69.0" r="1.05" fill="#a1168f"/>
<circle cx="338.6" cy="73.6" r="1.05" fill="#a1168f"/>
<circle cx="338.0" cy="79.3" r="1.05" fill="#a1168f"/>
<circle cx="348.5" cy="61.1" r="1.05" fill="#a1168f"/>
<circle cx="288.0" cy="121.7" r="1.05" fill="#a1168f"/>
<circle cx="308.9" cy="64.0" r="1.05" fill="#a1168f"/>
<circle cx="306.2" cy="90.2" r="1.05" fill="#a1168f"/>
<circle cx="349.0" cy="35.6" r="1.05" fill="#a1168f"/>
<circle cx="349.0" cy="108.0" r="1.05" fill="#a1168f"/>
<circle cx="321.7" cy="109.1" r="1.05" fill="#a1168f"/>
<circle cx="315.3" cy="99.7" r="1.05" fill="#a1168f"/>
<circle cx="318.0" cy="103.8" r="1.05" fill="#a1168f"/>
<circle cx="316.2" cy="101.8" r="1.05" fill="#a1168f"/>
<circle cx="322.6" cy="96.5" r="1.05" fill="#a1168f"/>
<circle cx="335.3" cy="98.6" r="1.05" fill="#a1168f"/>
<circle cx="338.1" cy="98.6" r="1.05" fill="#a1168f"/>
<circle cx="346.2" cy="95.5" r="1.05" fill="#a1168f"/>
<circle cx="327.1" cy="100.7" r="1.05" fill="#a1168f"/>
<line x1="290.01" y1="110.43" x2="372.00" y2="51.96" stroke="#2a2a2a" stroke-width="0.9" />
</g>
<rect x="287.00" y="31.60" width="88.60" height="93.40" fill="none" stroke="#4a4a4a" stroke-width="0.9" />
<line x1="284.50" y1="107.00" x2="287.00" y2="107.00" stroke="#333" stroke-width="0.8" />
<text x="284.00" y="110.00" font-size="8.5" text-anchor="end" fill="#333" stroke="#333" >4</text>
<line x1="284.50" y1="86.00" x2="287.00" y2="86.00" stroke="#333" stroke-width="0.8" />
<text x="284.00" y="89.00" font-size="8.5" text-anchor="end" fill="#333" stroke="#333" >6</text>
<line x1="284.50" y1="65.00" x2="287.00" y2="65.00" stroke="#333" stroke-width="0.8" />
<text x="284.00" y="68.00" font-size="8.5" text-anchor="end" fill="#333" stroke="#333" >8</text>
<line x1="284.50" y1="44.00" x2="287.00" y2="44.00" stroke="#333" stroke-width="0.8" />
<text x="284.00" y="47.00" font-size="8.5" text-anchor="end" fill="#333" stroke="#333" >10</text>
<line x1="291.65" y1="125.00" x2="291.65" y2="127.50" stroke="#333" stroke-width="0.8" />
<text x="291.65" y="134.50" font-size="8.5" text-anchor="middle" fill="#333" stroke="#333" >-2.5</text>
<line x1="314.40" y1="125.00" x2="314.40" y2="127.50" stroke="#333" stroke-width="0.8" />
<text x="314.40" y="134.50" font-size="8.5" text-anchor="middle" fill="#333" stroke="#333" >0.0</text>
<line x1="337.15" y1="125.00" x2="337.15" y2="127.50" stroke="#333" stroke-width="0.8" />
<text x="337.15" y="134.50" font-size="8.5" text-anchor="middle" fill="#333" stroke="#333" >2.5</text>
<line x1="359.90" y1="125.00" x2="359.90" y2="127.50" stroke="#333" stroke-width="0.8" />
<text x="359.90" y="134.50" font-size="8.5" text-anchor="middle" fill="#333" stroke="#333" >5.0</text>
<text x="333.00" y="30.00" font-size="9" text-anchor="middle" fill="#111"  >PAAD TCGA</text>
<text x="288.80" y="38.10" font-size="6.1" text-anchor="start" fill="#3a3a3a"  >Pearson</text>
<text x="288.80" y="43.80" font-size="6.1" text-anchor="start" fill="#3a3a3a"  >P &lt; 0.001</text>
<text x="288.80" y="49.50" font-size="6.1" text-anchor="start" fill="#3a3a3a"  >R=0.643</text>
<text x="288.80" y="55.20" font-size="6.1" text-anchor="start" fill="#3a3a3a"  >N=178</text>
<text x="331.30" y="143.60" font-size="8.3" text-anchor="middle" fill="#222"  >FOXM1 expresssion</text>
<text transform="translate(276.00,79.60) rotate(-90)" font-size="8.1" text-anchor="middle" fill="#222" stroke="#222">HMGA1 expression</text>
<rect x="421.00" y="31.00" width="111.00" height="97.00" fill="#fff" stroke="#000" stroke-width="1.5" />
<line x1="468.60" y1="31.00" x2="468.60" y2="128.00" stroke="#000" stroke-width="1.5" />
<line x1="421.00" y1="79.50" x2="532.00" y2="79.50" stroke="#000" stroke-width="1.5" />
<line x1="417.50" y1="35.50" x2="421.00" y2="35.50" stroke="#000" stroke-width="1" />
<text x="417.00" y="38.50" font-size="8.4" text-anchor="end" fill="#222" stroke="#222" >1.0</text>
<line x1="417.50" y1="44.30" x2="421.00" y2="44.30" stroke="#000" stroke-width="1" />
<text x="417.00" y="47.30" font-size="8.4" text-anchor="end" fill="#222" stroke="#222" >0.8</text>
<line x1="417.50" y1="53.10" x2="421.00" y2="53.10" stroke="#000" stroke-width="1" />
<text x="417.00" y="56.10" font-size="8.4" text-anchor="end" fill="#222" stroke="#222" >0.6</text>
<line x1="417.50" y1="61.90" x2="421.00" y2="61.90" stroke="#000" stroke-width="1" />
<text x="417.00" y="64.90" font-size="8.4" text-anchor="end" fill="#222" stroke="#222" >0.4</text>
<line x1="417.50" y1="70.70" x2="421.00" y2="70.70" stroke="#000" stroke-width="1" />
<text x="417.00" y="73.70" font-size="8.4" text-anchor="end" fill="#222" stroke="#222" >0.2</text>
<line x1="417.50" y1="79.50" x2="421.00" y2="79.50" stroke="#000" stroke-width="1" />
<text x="417.00" y="82.50" font-size="8.4" text-anchor="end" fill="#222" stroke="#222" >0.0</text>
<line x1="417.50" y1="88.30" x2="421.00" y2="88.30" stroke="#000" stroke-width="1" />
<text x="417.00" y="91.30" font-size="8.4" text-anchor="end" fill="#222" stroke="#222" >-0.2</text>
<line x1="417.50" y1="97.10" x2="421.00" y2="97.10" stroke="#000" stroke-width="1" />
<text x="417.00" y="100.10" font-size="8.4" text-anchor="end" fill="#222" stroke="#222" >-0.4</text>
<line x1="417.50" y1="105.90" x2="421.00" y2="105.90" stroke="#000" stroke-width="1" />
<text x="417.00" y="108.90" font-size="8.4" text-anchor="end" fill="#222" stroke="#222" >-0.6</text>
<line x1="417.50" y1="114.70" x2="421.00" y2="114.70" stroke="#000" stroke-width="1" />
<text x="417.00" y="117.70" font-size="8.4" text-anchor="end" fill="#222" stroke="#222" >-0.8</text>
<line x1="417.50" y1="123.50" x2="421.00" y2="123.50" stroke="#000" stroke-width="1" />
<text x="417.00" y="126.50" font-size="8.4" text-anchor="end" fill="#222" stroke="#222" >-1.0</text>
<line x1="425.40" y1="128.00" x2="425.40" y2="131.50" stroke="#000" stroke-width="1" />
<text x="425.40" y="141.20" font-size="8.4" text-anchor="middle" fill="#222" stroke="#222" >0.01</text>
<line x1="445.60" y1="128.00" x2="445.60" y2="131.50" stroke="#000" stroke-width="1" />
<text x="445.60" y="141.20" font-size="8.4" text-anchor="middle" fill="#222" stroke="#222" >0.10</text>
<line x1="486.00" y1="128.00" x2="486.00" y2="131.50" stroke="#000" stroke-width="1" />
<text x="486.00" y="141.20" font-size="8.4" text-anchor="middle" fill="#222" stroke="#222" >10.00</text>
<line x1="526.40" y1="128.00" x2="526.40" y2="131.50" stroke="#000" stroke-width="1" />
<text x="526.40" y="141.20" font-size="8.4" text-anchor="middle" fill="#222" stroke="#222" >1000.00</text>
<text x="455" y="150" font-size="8" fill="#222" stroke="#222">-log<tspan font-size="5.5" dy="1.5">10</tspan><tspan dy="-1.5" font-style="italic"> P</tspan></text>
<text transform="translate(399.90,82.50) rotate(-90)" font-size="8.1" text-anchor="middle" fill="#222" stroke="#222">Pearson correlation(r)</text>
<circle cx="465.90" cy="69.80" r="3.30" fill="#c0c0c0" stroke="#000" stroke-width="1.3" />
<circle cx="462.40" cy="88.80" r="3.30" fill="#c0c0c0" stroke="#000" stroke-width="1.3" />
<circle cx="476.20" cy="51.20" r="3.30" fill="#9a35e8" stroke="#000" stroke-width="1.3" />
<circle cx="479.60" cy="55.50" r="3.30" fill="#9a35e8" stroke="#000" stroke-width="1.3" />
<circle cx="476.60" cy="59.10" r="3.30" fill="#9a35e8" stroke="#000" stroke-width="1.3" />
<circle cx="481.10" cy="61.10" r="3.30" fill="#9a35e8" stroke="#000" stroke-width="1.3" />
<circle cx="484.30" cy="61.60" r="3.30" fill="#9a35e8" stroke="#000" stroke-width="1.3" />
<circle cx="488.00" cy="55.20" r="3.30" fill="#9a35e8" stroke="#000" stroke-width="1.3" />
<circle cx="490.40" cy="60.10" r="3.30" fill="#9a35e8" stroke="#000" stroke-width="1.3" />
<circle cx="492.30" cy="62.00" r="3.30" fill="#9a35e8" stroke="#000" stroke-width="1.3" />
<circle cx="494.80" cy="58.10" r="3.30" fill="#9a35e8" stroke="#000" stroke-width="1.3" />
<circle cx="495.80" cy="48.30" r="3.30" fill="#9a35e8" stroke="#000" stroke-width="1.3" />
<circle cx="503.60" cy="45.40" r="3.30" fill="#9a35e8" stroke="#000" stroke-width="1.3" />
<circle cx="505.10" cy="54.70" r="3.30" fill="#9a35e8" stroke="#000" stroke-width="1.3" />
<circle cx="482.50" cy="57.60" r="3.30" fill="#9a35e8" stroke="#000" stroke-width="1.3" />
<circle cx="486.00" cy="58.60" r="3.30" fill="#9a35e8" stroke="#000" stroke-width="1.3" />
<circle cx="491.90" cy="56.60" r="3.30" fill="#9a35e8" stroke="#000" stroke-width="1.3" />
<circle cx="499.00" cy="49.50" r="3.30" fill="#9a35e8" stroke="#000" stroke-width="1.3" />
<circle cx="468.80" cy="64.00" r="3.30" fill="#9a35e8" stroke="#000" stroke-width="1.3" />
<circle cx="470.80" cy="70.90" r="3.30" fill="#9a35e8" stroke="#000" stroke-width="1.3" />
<circle cx="477.10" cy="70.90" r="3.30" fill="#9a35e8" stroke="#000" stroke-width="1.3" />
<circle cx="480.10" cy="68.90" r="3.30" fill="#9a35e8" stroke="#000" stroke-width="1.3" />
<circle cx="489.60" cy="47.80" r="3.30" fill="#ff0000" stroke="#000" stroke-width="1.3" />
<circle cx="500.70" cy="52.20" r="3.30" fill="#ff0000" stroke="#000" stroke-width="1.3" />
<circle cx="473.70" cy="65.30" r="3.30" fill="#ff0000" stroke="#000" stroke-width="1.3" />
<rect x="454.00" y="34.40" width="24.40" height="8.80" fill="#fff" stroke="#9a9a9a" stroke-width="0.7" />
<text x="466.20" y="41.40" font-size="8.2" text-anchor="middle" fill="#2a2a2a" stroke="#2a2a2a" >PAAD</text>
<rect x="501.00" y="70.00" width="24.60" height="8.60" fill="#fff" stroke="#9a9a9a" stroke-width="0.7" />
<text x="513.30" y="76.80" font-size="8.2" text-anchor="middle" fill="#2a2a2a" stroke="#2a2a2a" >LUAD</text>
<rect x="481.60" y="83.00" width="24.00" height="8.60" fill="#fff" stroke="#9a9a9a" stroke-width="0.7" />
<text x="493.60" y="89.80" font-size="8.2" text-anchor="middle" fill="#2a2a2a" stroke="#2a2a2a" >LIHC</text>
<defs><marker id="ah" viewBox="0 0 10 10" refX="9" refY="5" markerWidth="3.2" markerHeight="3.2" orient="auto"><path d="M0,0 L10,5 L0,10 z" fill="#ff1010"/></marker></defs>
<line x1="487.20" y1="46.80" x2="479.00" y2="42.60" stroke="#ff1010" stroke-width="1.1" marker-end="url(#ah)"/>
<line x1="502.20" y1="55.50" x2="510.80" y2="69.60" stroke="#ff1010" stroke-width="1.1" marker-end="url(#ah)"/>
<line x1="475.20" y1="68.40" x2="484.20" y2="82.80" stroke="#ff1010" stroke-width="1.1" marker-end="url(#ah)"/>
<clipPath id="vb1"><circle cx="57" cy="227.2" r="30"/></clipPath>
<circle cx="57.00" cy="227.20" r="30.00" fill="#86a0cc" stroke="#5a7fb8" stroke-width="0.6" />
<circle cx="78.00" cy="228.70" r="25.60" fill="#93ca8a" stroke="#6ea862" stroke-width="0.6" />
<g clip-path="url(#vb1)">
<circle cx="78.00" cy="228.70" r="25.60" fill="#69a785" stroke="#4d8a5e" stroke-width="0.6" />
</g>
<text x="65.40" y="185.20" font-size="10.6" text-anchor="middle" fill="#1a1a1a"  >LUAD</text>
<text x="44.50" y="196.40" font-size="9.3" text-anchor="middle" fill="#1a1a1a"  >FOXM1</text>
<text x="84.50" y="196.40" font-size="9.3" text-anchor="middle" fill="#1a1a1a"  >HMGA1</text>
<text x="39.70" y="225.50" font-size="10.5" text-anchor="middle" fill="#111"  >328</text>
<text x="41.50" y="231.30" font-size="5.2" text-anchor="middle" fill="#333" stroke="#333" >32.3%</text>
<text x="68.80" y="225.50" font-size="10.5" text-anchor="middle" fill="#111"  >328</text>
<text x="69.00" y="231.30" font-size="5.2" text-anchor="middle" fill="#333" stroke="#333" >61.6%</text>
<text x="94.50" y="225.50" font-size="10.5" text-anchor="middle" fill="#111"  >62</text>
<text x="95.00" y="231.30" font-size="5.2" text-anchor="middle" fill="#333" stroke="#333" >6.1%</text>
<clipPath id="vb2"><circle cx="142.6" cy="226.8" r="30.2"/></clipPath>
<circle cx="142.60" cy="226.80" r="30.20" fill="#86a0cc" stroke="#5a7fb8" stroke-width="0.6" />
<circle cx="168.80" cy="224.70" r="25.30" fill="#93ca8a" stroke="#6ea862" stroke-width="0.6" />
<g clip-path="url(#vb2)">
<circle cx="168.80" cy="224.70" r="25.30" fill="#69a785" stroke="#4d8a5e" stroke-width="0.6" />
</g>
<text x="153.50" y="185.20" font-size="10.6" text-anchor="middle" fill="#1a1a1a"  >LIHC</text>
<text x="133.70" y="196.40" font-size="9.3" text-anchor="middle" fill="#1a1a1a"  >FOXM1</text>
<text x="173.50" y="196.40" font-size="9.3" text-anchor="middle" fill="#1a1a1a"  >HMGA1</text>
<text x="127.50" y="225.50" font-size="10.5" text-anchor="middle" fill="#111"  >1156</text>
<text x="128.60" y="231.30" font-size="5.2" text-anchor="middle" fill="#333" stroke="#333" >39%</text>
<text x="159.00" y="225.50" font-size="10.5" text-anchor="middle" fill="#111"  >1281</text>
<text x="159.50" y="231.30" font-size="5.2" text-anchor="middle" fill="#333" stroke="#333" >43.2%</text>
<text x="183.30" y="225.50" font-size="10.5" text-anchor="middle" fill="#111"  >526</text>
<text x="183.00" y="231.30" font-size="5.2" text-anchor="middle" fill="#333" stroke="#333" >17.8%</text>
<clipPath id="vb3"><circle cx="228.7" cy="225.3" r="25.7"/></clipPath>
<circle cx="228.70" cy="225.30" r="25.70" fill="#86a0cc" stroke="#5a7fb8" stroke-width="0.6" />
<circle cx="252.50" cy="225.70" r="28.60" fill="#93ca8a" stroke="#6ea862" stroke-width="0.6" />
<g clip-path="url(#vb3)">
<circle cx="252.50" cy="225.70" r="28.60" fill="#69a785" stroke="#4d8a5e" stroke-width="0.6" />
</g>
<text x="242.00" y="185.20" font-size="10.6" text-anchor="middle" fill="#1a1a1a"  >PAAD</text>
<text x="222.00" y="196.40" font-size="9.3" text-anchor="middle" fill="#1a1a1a"  >FOXM1</text>
<text x="261.70" y="196.40" font-size="9.3" text-anchor="middle" fill="#1a1a1a"  >HMGA1</text>
<text x="213.30" y="225.50" font-size="10.5" text-anchor="middle" fill="#111"  >126</text>
<text x="213.50" y="231.30" font-size="5.2" text-anchor="middle" fill="#333" stroke="#333" >10.5%</text>
<text x="239.00" y="225.50" font-size="10.5" text-anchor="middle" fill="#111"  >492</text>
<text x="239.50" y="231.30" font-size="5.2" text-anchor="middle" fill="#333" stroke="#333" >40.9%</text>
<text x="266.00" y="225.50" font-size="10.5" text-anchor="middle" fill="#111"  >584</text>
<text x="266.00" y="231.30" font-size="5.2" text-anchor="middle" fill="#333" stroke="#333" >48.6%</text>
<path d="M43.6,270.6 L147.6,270.6 L147.6,258.6 L153,258.6 L153,270.6 L256.6,270.6 L150,283 Z" fill="#fff" stroke="#4a6cb0" stroke-width="1.2" stroke-linejoin="miter"/>
<clipPath id="tb"><ellipse cx="139.3" cy="309.6" rx="27.2" ry="24.0"/></clipPath>
<clipPath id="tr"><ellipse cx="162.3" cy="309.6" rx="27.2" ry="24.0"/></clipPath>
<ellipse cx="139.3" cy="309.6" rx="27.2" ry="24.0" fill="#80a2cf" stroke="none" stroke-width="0" />
<ellipse cx="162.3" cy="309.6" rx="27.2" ry="24.0" fill="#e87878" stroke="none" stroke-width="0" />
<ellipse cx="150.2" cy="331.3" rx="27.2" ry="24.0" fill="#88ca7e" stroke="none" stroke-width="0" />
<g clip-path="url(#tb)">
<ellipse cx="162.3" cy="309.6" rx="27.2" ry="24.0" fill="#c46a6e" stroke="none" stroke-width="0" />
</g>
<g clip-path="url(#tb)">
<ellipse cx="150.2" cy="331.3" rx="27.2" ry="24.0" fill="#5fa686" stroke="none" stroke-width="0" />
</g>
<g clip-path="url(#tr)">
<ellipse cx="150.2" cy="331.3" rx="27.2" ry="24.0" fill="#b0a860" stroke="none" stroke-width="0" />
</g>
<g clip-path="url(#tb)"><g clip-path="url(#tr)">
<ellipse cx="150.2" cy="331.3" rx="27.2" ry="24.0" fill="#959460" stroke="none" stroke-width="0" />
</g></g>
<ellipse cx="139.3" cy="309.6" rx="27.2" ry="24.0" fill="none" stroke="#4f76b0" stroke-width="0.5" opacity="0.55"/>
<ellipse cx="162.3" cy="309.6" rx="27.2" ry="24.0" fill="none" stroke="#b04848" stroke-width="0.5" opacity="0.55"/>
<ellipse cx="150.2" cy="331.3" rx="27.2" ry="24.0" fill="none" stroke="#5a9a52" stroke-width="0.5" opacity="0.55"/>
<text x="102.50" y="294.40" font-size="10" text-anchor="middle" fill="#1a1a1a"  >LIHC</text>
<text x="199.30" y="294.40" font-size="10" text-anchor="middle" fill="#1a1a1a"  >LUAD</text>
<text x="150.70" y="364.40" font-size="10" text-anchor="middle" fill="#1a1a1a"  >PAAD</text>
<text x="125.00" y="303.00" font-size="10.5" text-anchor="middle" fill="#111"  >995</text>
<text x="125.50" y="308.30" font-size="5.2" text-anchor="middle" fill="#333" stroke="#333" >50.6%</text>
<text x="150.50" y="300.40" font-size="10.5" text-anchor="middle" fill="#111"  >130</text>
<text x="151.00" y="305.70" font-size="5.2" text-anchor="middle" fill="#333" stroke="#333" >6.6%</text>
<text x="176.00" y="303.60" font-size="10.5" text-anchor="middle" fill="#111"  >348</text>
<text x="176.50" y="308.90" font-size="5.2" text-anchor="middle" fill="#333" stroke="#333" >17.7%</text>
<text x="150.20" y="321.00" font-size="10.5" text-anchor="middle" fill="#111"  >102</text>
<text x="150.70" y="326.30" font-size="5.2" text-anchor="middle" fill="#333" stroke="#333" >5.2%</text>
<text x="132.70" y="326.40" font-size="10.5" text-anchor="middle" fill="#111"  >55</text>
<text x="133.20" y="331.70" font-size="5.2" text-anchor="middle" fill="#333" stroke="#333" >2.8%</text>
<text x="168.00" y="326.40" font-size="10.5" text-anchor="middle" fill="#111"  >46</text>
<text x="168.50" y="331.70" font-size="5.2" text-anchor="middle" fill="#333" stroke="#333" >2.3%</text>
<text x="150.00" y="345.60" font-size="10.5" text-anchor="middle" fill="#111"  >290</text>
<text x="150.50" y="350.90" font-size="5.2" text-anchor="middle" fill="#333" stroke="#333" >14.8%</text>
<rect x="404.50" y="189.00" width="83.50" height="151.00" fill="#fff" stroke="#a0a0a0" stroke-width="0.8" />
<line x1="421.80" y1="189.00" x2="421.80" y2="340.00" stroke="#f2f2f2" stroke-width="0.6" />
<line x1="448.80" y1="189.00" x2="448.80" y2="340.00" stroke="#f2f2f2" stroke-width="0.6" />
<line x1="475.80" y1="189.00" x2="475.80" y2="340.00" stroke="#f2f2f2" stroke-width="0.6" />
<line x1="408.30" y1="189.00" x2="408.30" y2="340.00" stroke="#e6e6e6" stroke-width="0.8" />
<line x1="435.30" y1="189.00" x2="435.30" y2="340.00" stroke="#e6e6e6" stroke-width="0.8" />
<line x1="462.30" y1="189.00" x2="462.30" y2="340.00" stroke="#e6e6e6" stroke-width="0.8" />
<line x1="404.50" y1="206.80" x2="488.00" y2="206.80" stroke="#e6e6e6" stroke-width="0.8" />
<line x1="404.50" y1="235.80" x2="488.00" y2="235.80" stroke="#e6e6e6" stroke-width="0.8" />
<line x1="404.50" y1="264.80" x2="488.00" y2="264.80" stroke="#e6e6e6" stroke-width="0.8" />
<line x1="404.50" y1="293.80" x2="488.00" y2="293.80" stroke="#e6e6e6" stroke-width="0.8" />
<line x1="404.50" y1="322.80" x2="488.00" y2="322.80" stroke="#e6e6e6" stroke-width="0.8" />
<rect x="408.30" y="194.00" width="76.14" height="25.60" fill="#ff0000" stroke="none" stroke-width="1" />
<line x1="401.90" y1="206.80" x2="404.50" y2="206.80" stroke="#555" stroke-width="0.8" />
<text x="401.80" y="209.50" font-size="10.3" text-anchor="end" fill="#1a1a1a"  >Cell cycle</text>
<rect x="408.30" y="223.00" width="43.20" height="25.60" fill="#fd0010" stroke="none" stroke-width="1" />
<line x1="401.90" y1="235.80" x2="404.50" y2="235.80" stroke="#555" stroke-width="0.8" />
<text x="401.80" y="238.50" font-size="10.3" text-anchor="end" fill="#1a1a1a"  >Oocyte meiosis</text>
<rect x="408.30" y="252.00" width="32.94" height="25.60" fill="#f7001e" stroke="none" stroke-width="1" />
<line x1="401.90" y1="264.80" x2="404.50" y2="264.80" stroke="#555" stroke-width="0.8" />
<text x="401.80" y="262.20" font-size="10.3" text-anchor="end" fill="#1a1a1a"  >Progesterone-mediated</text>
<text x="401.80" y="270.80" font-size="10.3" text-anchor="end" fill="#1a1a1a"  >oocyte maturation</text>
<rect x="408.30" y="281.00" width="32.94" height="25.60" fill="#8a00d2" stroke="none" stroke-width="1" />
<line x1="401.90" y1="293.80" x2="404.50" y2="293.80" stroke="#555" stroke-width="0.8" />
<text x="401.80" y="291.20" font-size="10.3" text-anchor="end" fill="#1a1a1a"  >Human T-cell leukemia</text>
<text x="401.80" y="299.80" font-size="10.3" text-anchor="end" fill="#1a1a1a"  >virus 1 infection</text>
<rect x="408.30" y="310.00" width="27.00" height="25.60" fill="#0000ff" stroke="none" stroke-width="1" />
<line x1="401.90" y1="322.80" x2="404.50" y2="322.80" stroke="#555" stroke-width="0.8" />
<text x="401.80" y="325.50" font-size="10.3" text-anchor="end" fill="#1a1a1a"  >Cellular senescence</text>
<line x1="408.30" y1="340.00" x2="408.30" y2="342.50" stroke="#555" stroke-width="0.8" />
<text x="408.30" y="353.70" font-size="10.2" text-anchor="middle" fill="#2a2a2a"  >0</text>
<line x1="435.30" y1="340.00" x2="435.30" y2="342.50" stroke="#555" stroke-width="0.8" />
<text x="435.30" y="353.70" font-size="10.2" text-anchor="middle" fill="#2a2a2a"  >5</text>
<line x1="462.30" y1="340.00" x2="462.30" y2="342.50" stroke="#555" stroke-width="0.8" />
<text x="462.30" y="353.70" font-size="10.2" text-anchor="middle" fill="#2a2a2a"  >10</text>
<text x="491.40" y="227.60" font-size="10" text-anchor="start" fill="#1a1a1a"  >p.adjust</text>
<defs><linearGradient id="gD" x1="0" y1="0" x2="0" y2="1"><stop offset="0" stop-color="#f8002a"/><stop offset="0.25" stop-color="#e3005b"/><stop offset="0.5" stop-color="#c4008f"/><stop offset="0.75" stop-color="#9a00c2"/><stop offset="0.9" stop-color="#6800e7"/><stop offset="1" stop-color="#1a10ff"/></linearGradient></defs>
<rect x="491.00" y="232.00" width="11.50" height="75.60" fill="url(#gD)" stroke="none" stroke-width="1" />
<line x1="491.00" y1="253.00" x2="493.40" y2="253.00" stroke="#fff" stroke-width="0.7" />
<line x1="500.60" y1="253.00" x2="503.00" y2="253.00" stroke="#fff" stroke-width="0.7" />
<text x="504.00" y="256.40" font-size="10" text-anchor="start" fill="#222"  >0.003</text>
<line x1="491.00" y1="272.80" x2="493.40" y2="272.80" stroke="#fff" stroke-width="0.7" />
<line x1="500.60" y1="272.80" x2="503.00" y2="272.80" stroke="#fff" stroke-width="0.7" />
<text x="504.00" y="276.20" font-size="10" text-anchor="start" fill="#222"  >0.006</text>
<line x1="491.00" y1="292.40" x2="493.40" y2="292.40" stroke="#fff" stroke-width="0.7" />
<line x1="500.60" y1="292.40" x2="503.00" y2="292.40" stroke="#fff" stroke-width="0.7" />
<text x="504.00" y="295.80" font-size="10" text-anchor="start" fill="#222"  >0.009</text>
<rect x="87.60" y="401.00" width="77.40" height="101.35" fill="#fff" stroke="none" stroke-width="1" />
<line x1="98.00" y1="401.00" x2="98.00" y2="502.35" stroke="#f0f0f0" stroke-width="0.5" />
<line x1="120.00" y1="401.00" x2="120.00" y2="502.35" stroke="#f0f0f0" stroke-width="0.5" />
<line x1="142.00" y1="401.00" x2="142.00" y2="502.35" stroke="#f0f0f0" stroke-width="0.5" />
<line x1="164.00" y1="401.00" x2="164.00" y2="502.35" stroke="#f0f0f0" stroke-width="0.5" />
<line x1="109.00" y1="401.00" x2="109.00" y2="502.35" stroke="#e4e4e4" stroke-width="0.7" />
<line x1="131.00" y1="401.00" x2="131.00" y2="502.35" stroke="#e4e4e4" stroke-width="0.7" />
<line x1="153.00" y1="401.00" x2="153.00" y2="502.35" stroke="#e4e4e4" stroke-width="0.7" />
<line x1="87.60" y1="407.00" x2="165.00" y2="407.00" stroke="#e4e4e4" stroke-width="0.7" />
<line x1="87.60" y1="416.95" x2="165.00" y2="416.95" stroke="#e4e4e4" stroke-width="0.7" />
<line x1="87.60" y1="426.90" x2="165.00" y2="426.90" stroke="#e4e4e4" stroke-width="0.7" />
<line x1="87.60" y1="436.85" x2="165.00" y2="436.85" stroke="#e4e4e4" stroke-width="0.7" />
<line x1="87.60" y1="446.80" x2="165.00" y2="446.80" stroke="#e4e4e4" stroke-width="0.7" />
<line x1="87.60" y1="456.75" x2="165.00" y2="456.75" stroke="#e4e4e4" stroke-width="0.7" />
<line x1="87.60" y1="466.70" x2="165.00" y2="466.70" stroke="#e4e4e4" stroke-width="0.7" />
<line x1="87.60" y1="476.65" x2="165.00" y2="476.65" stroke="#e4e4e4" stroke-width="0.7" />
<line x1="87.60" y1="486.60" x2="165.00" y2="486.60" stroke="#e4e4e4" stroke-width="0.7" />
<line x1="87.60" y1="496.55" x2="165.00" y2="496.55" stroke="#e4e4e4" stroke-width="0.7" />
<rect x="87.60" y="391.00" width="77.40" height="10.00" fill="#d6d6d6" stroke="#8a8a8a" stroke-width="0.7" />
<text x="126.30" y="398.60" font-size="5.9" text-anchor="middle" fill="#333"  >activated</text>
<line x1="109.00" y1="502.35" x2="109.00" y2="504.35" stroke="#555" stroke-width="0.6" />
<text x="109.00" y="511.35" font-size="7.2" text-anchor="middle" fill="#444" stroke="#444" >0.4</text>
<line x1="131.00" y1="502.35" x2="131.00" y2="504.35" stroke="#555" stroke-width="0.6" />
<text x="131.00" y="511.35" font-size="7.2" text-anchor="middle" fill="#444" stroke="#444" >0.6</text>
<line x1="153.00" y1="502.35" x2="153.00" y2="504.35" stroke="#555" stroke-width="0.6" />
<text x="153.00" y="511.35" font-size="7.2" text-anchor="middle" fill="#444" stroke="#444" >0.8</text>
<rect x="168.40" y="401.00" width="77.20" height="101.35" fill="#fff" stroke="none" stroke-width="1" />
<line x1="178.60" y1="401.00" x2="178.60" y2="502.35" stroke="#f0f0f0" stroke-width="0.5" />
<line x1="200.60" y1="401.00" x2="200.60" y2="502.35" stroke="#f0f0f0" stroke-width="0.5" />
<line x1="222.60" y1="401.00" x2="222.60" y2="502.35" stroke="#f0f0f0" stroke-width="0.5" />
<line x1="244.60" y1="401.00" x2="244.60" y2="502.35" stroke="#f0f0f0" stroke-width="0.5" />
<line x1="189.60" y1="401.00" x2="189.60" y2="502.35" stroke="#e4e4e4" stroke-width="0.7" />
<line x1="211.60" y1="401.00" x2="211.60" y2="502.35" stroke="#e4e4e4" stroke-width="0.7" />
<line x1="233.60" y1="401.00" x2="233.60" y2="502.35" stroke="#e4e4e4" stroke-width="0.7" />
<line x1="168.40" y1="407.00" x2="245.60" y2="407.00" stroke="#e4e4e4" stroke-width="0.7" />
<line x1="168.40" y1="416.95" x2="245.60" y2="416.95" stroke="#e4e4e4" stroke-width="0.7" />
<line x1="168.40" y1="426.90" x2="245.60" y2="426.90" stroke="#e4e4e4" stroke-width="0.7" />
<line x1="168.40" y1="436.85" x2="245.60" y2="436.85" stroke="#e4e4e4" stroke-width="0.7" />
<line x1="168.40" y1="446.80" x2="245.60" y2="446.80" stroke="#e4e4e4" stroke-width="0.7" />
<line x1="168.40" y1="456.75" x2="245.60" y2="456.75" stroke="#e4e4e4" stroke-width="0.7" />
<line x1="168.40" y1="466.70" x2="245.60" y2="466.70" stroke="#e4e4e4" stroke-width="0.7" />
<line x1="168.40" y1="476.65" x2="245.60" y2="476.65" stroke="#e4e4e4" stroke-width="0.7" />
<line x1="168.40" y1="486.60" x2="245.60" y2="486.60" stroke="#e4e4e4" stroke-width="0.7" />
<line x1="168.40" y1="496.55" x2="245.60" y2="496.55" stroke="#e4e4e4" stroke-width="0.7" />
<rect x="168.40" y="391.00" width="77.20" height="10.00" fill="#d6d6d6" stroke="#8a8a8a" stroke-width="0.7" />
<text x="207.00" y="398.60" font-size="5.9" text-anchor="middle" fill="#333"  >suppressed</text>
<line x1="189.60" y1="502.35" x2="189.60" y2="504.35" stroke="#555" stroke-width="0.6" />
<text x="189.60" y="511.35" font-size="7.2" text-anchor="middle" fill="#444" stroke="#444" >0.4</text>
<line x1="211.60" y1="502.35" x2="211.60" y2="504.35" stroke="#555" stroke-width="0.6" />
<text x="211.60" y="511.35" font-size="7.2" text-anchor="middle" fill="#444" stroke="#444" >0.6</text>
<line x1="233.60" y1="502.35" x2="233.60" y2="504.35" stroke="#555" stroke-width="0.6" />
<text x="233.60" y="511.35" font-size="7.2" text-anchor="middle" fill="#444" stroke="#444" >0.8</text>
<line x1="85.10" y1="407.00" x2="87.60" y2="407.00" stroke="#555" stroke-width="0.6" />
<text x="84.30" y="409.60" font-size="6.95" text-anchor="end" fill="#222"  >MYC TARGETS V2</text>
<line x1="85.10" y1="416.95" x2="87.60" y2="416.95" stroke="#555" stroke-width="0.6" />
<text x="84.30" y="419.55" font-size="6.95" text-anchor="end" fill="#222"  >MYC TARGETS V1</text>
<line x1="85.10" y1="426.90" x2="87.60" y2="426.90" stroke="#555" stroke-width="0.6" />
<text x="84.30" y="429.50" font-size="6.95" text-anchor="end" fill="#222"  >G2M CHECKPOINT</text>
<line x1="85.10" y1="436.85" x2="87.60" y2="436.85" stroke="#555" stroke-width="0.6" />
<text x="84.30" y="439.45" font-size="6.95" text-anchor="end" fill="#222"  >E2F TARGETS</text>
<line x1="85.10" y1="446.80" x2="87.60" y2="446.80" stroke="#555" stroke-width="0.6" />
<text x="84.30" y="449.40" font-size="6.95" text-anchor="end" fill="#222"  >MTORC1 SIGNALING</text>
<line x1="85.10" y1="456.75" x2="87.60" y2="456.75" stroke="#555" stroke-width="0.6" />
<text x="84.30" y="459.35" font-size="6.95" text-anchor="end" fill="#222"  >MITOTIC SPINDLE</text>
<line x1="85.10" y1="466.70" x2="87.60" y2="466.70" stroke="#555" stroke-width="0.6" />
<text x="84.30" y="469.30" font-size="6.95" text-anchor="end" fill="#222"  >DNA REPAIR</text>
<line x1="85.10" y1="476.65" x2="87.60" y2="476.65" stroke="#555" stroke-width="0.6" />
<text x="84.30" y="479.25" font-size="6.95" text-anchor="end" fill="#222"  >GLYCOLYSIS</text>
<line x1="85.10" y1="486.60" x2="87.60" y2="486.60" stroke="#555" stroke-width="0.6" />
<text x="84.30" y="489.20" font-size="6.95" text-anchor="end" fill="#222"  >KRAS SIGNALING DN</text>
<line x1="85.10" y1="496.55" x2="87.60" y2="496.55" stroke="#555" stroke-width="0.6" />
<text x="84.30" y="499.15" font-size="6.95" text-anchor="end" fill="#222"  >COAGULATION</text>
<circle cx="160.70" cy="407.00" r="3.40" fill="#ff0000" stroke="none" stroke-width="1" />
<circle cx="151.13" cy="416.95" r="5.30" fill="#ff0000" stroke="none" stroke-width="1" />
<circle cx="149.70" cy="426.90" r="5.20" fill="#ff0000" stroke="none" stroke-width="1" />
<circle cx="143.10" cy="436.85" r="5.00" fill="#fc0008" stroke="none" stroke-width="1" />
<circle cx="136.50" cy="446.80" r="5.00" fill="#ff0000" stroke="none" stroke-width="1" />
<circle cx="131.00" cy="456.75" r="4.70" fill="#ff0000" stroke="none" stroke-width="1" />
<circle cx="131.00" cy="466.70" r="4.30" fill="#ff0000" stroke="none" stroke-width="1" />
<circle cx="128.80" cy="476.65" r="4.70" fill="#ff0000" stroke="none" stroke-width="1" />
<circle cx="190.70" cy="486.60" r="3.60" fill="#f80020" stroke="none" stroke-width="1" />
<circle cx="170.90" cy="496.55" r="2.20" fill="#0a0aff" stroke="none" stroke-width="1" />
<rect x="87.60" y="401.00" width="77.40" height="101.35" fill="none" stroke="#8a8a8a" stroke-width="0.9" />
<rect x="168.40" y="401.00" width="77.20" height="101.35" fill="none" stroke="#8a8a8a" stroke-width="0.9" />
<text x="28.00" y="393.60" font-size="10" text-anchor="start" fill="#1a1a1a"  >HMGA1</text>
<rect x="19.00" y="422.60" width="66.60" height="9.00" fill="none" stroke="#e06060" stroke-width="0.8" />
<text x="166.70" y="518.50" font-size="7.1" text-anchor="middle" fill="#333"  >GeneRatio</text>
<text x="249.20" y="404.50" font-size="7" text-anchor="start" fill="#222" stroke="#222" >Count</text>
<circle cx="253.20" cy="411.00" r="2.50" fill="#000" stroke="none" stroke-width="1" />
<text x="258.70" y="413.40" font-size="6.5" text-anchor="start" fill="#333" stroke="#333" >30</text>
<circle cx="253.20" cy="421.00" r="3.60" fill="#000" stroke="none" stroke-width="1" />
<text x="258.70" y="423.40" font-size="6.5" text-anchor="start" fill="#333" stroke="#333" >60</text>
<circle cx="253.20" cy="431.30" r="4.30" fill="#000" stroke="none" stroke-width="1" />
<text x="258.70" y="433.70" font-size="6.5" text-anchor="start" fill="#333" stroke="#333" >90</text>
<circle cx="253.20" cy="442.70" r="5.00" fill="#000" stroke="none" stroke-width="1" />
<text x="258.70" y="445.10" font-size="6.5" text-anchor="start" fill="#333" stroke="#333" >120</text>
<circle cx="253.20" cy="454.80" r="5.50" fill="#000" stroke="none" stroke-width="1" />
<text x="258.70" y="457.20" font-size="6.5" text-anchor="start" fill="#333" stroke="#333" >150</text>
<text x="247.40" y="466.00" font-size="7" text-anchor="start" fill="#222" stroke="#222" >p.adjust</text>
<rect x="250.20" y="469.00" width="6.60" height="33.40" fill="url(#gD)"/>
<text x="257.40" y="480.20" font-size="6.5" text-anchor="start" fill="#333" stroke="#333" >0.01</text>
<text x="257.40" y="488.80" font-size="6.5" text-anchor="start" fill="#333" stroke="#333" >0.02</text>
<text x="257.40" y="497.60" font-size="6.5" text-anchor="start" fill="#333" stroke="#333" >0.03</text>
<rect x="374.00" y="401.00" width="69.40" height="100.77" fill="#fff" stroke="none" stroke-width="1" />
<line x1="384.10" y1="401.00" x2="384.10" y2="501.77" stroke="#f0f0f0" stroke-width="0.5" />
<line x1="396.30" y1="401.00" x2="396.30" y2="501.77" stroke="#f0f0f0" stroke-width="0.5" />
<line x1="408.50" y1="401.00" x2="408.50" y2="501.77" stroke="#f0f0f0" stroke-width="0.5" />
<line x1="420.70" y1="401.00" x2="420.70" y2="501.77" stroke="#f0f0f0" stroke-width="0.5" />
<line x1="432.90" y1="401.00" x2="432.90" y2="501.77" stroke="#f0f0f0" stroke-width="0.5" />
<line x1="378.00" y1="401.00" x2="378.00" y2="501.77" stroke="#e4e4e4" stroke-width="0.7" />
<line x1="390.20" y1="401.00" x2="390.20" y2="501.77" stroke="#e4e4e4" stroke-width="0.7" />
<line x1="402.40" y1="401.00" x2="402.40" y2="501.77" stroke="#e4e4e4" stroke-width="0.7" />
<line x1="414.60" y1="401.00" x2="414.60" y2="501.77" stroke="#e4e4e4" stroke-width="0.7" />
<line x1="426.80" y1="401.00" x2="426.80" y2="501.77" stroke="#e4e4e4" stroke-width="0.7" />
<line x1="439.00" y1="401.00" x2="439.00" y2="501.77" stroke="#e4e4e4" stroke-width="0.7" />
<line x1="374.00" y1="406.60" x2="443.40" y2="406.60" stroke="#e4e4e4" stroke-width="0.7" />
<line x1="374.00" y1="416.53" x2="443.40" y2="416.53" stroke="#e4e4e4" stroke-width="0.7" />
<line x1="374.00" y1="426.46" x2="443.40" y2="426.46" stroke="#e4e4e4" stroke-width="0.7" />
<line x1="374.00" y1="436.39" x2="443.40" y2="436.39" stroke="#e4e4e4" stroke-width="0.7" />
<line x1="374.00" y1="446.32" x2="443.40" y2="446.32" stroke="#e4e4e4" stroke-width="0.7" />
<line x1="374.00" y1="456.25" x2="443.40" y2="456.25" stroke="#e4e4e4" stroke-width="0.7" />
<line x1="374.00" y1="466.18" x2="443.40" y2="466.18" stroke="#e4e4e4" stroke-width="0.7" />
<line x1="374.00" y1="476.11" x2="443.40" y2="476.11" stroke="#e4e4e4" stroke-width="0.7" />
<line x1="374.00" y1="486.04" x2="443.40" y2="486.04" stroke="#e4e4e4" stroke-width="0.7" />
<line x1="374.00" y1="495.97" x2="443.40" y2="495.97" stroke="#e4e4e4" stroke-width="0.7" />
<rect x="374.00" y="391.00" width="69.40" height="10.00" fill="#d6d6d6" stroke="#8a8a8a" stroke-width="0.7" />
<text x="408.70" y="398.60" font-size="5.9" text-anchor="middle" fill="#333"  >activated</text>
<line x1="378.00" y1="501.77" x2="378.00" y2="503.77" stroke="#555" stroke-width="0.6" />
<text x="378.00" y="510.77" font-size="7.2" text-anchor="middle" fill="#444" stroke="#444" >0.3</text>
<line x1="390.20" y1="501.77" x2="390.20" y2="503.77" stroke="#555" stroke-width="0.6" />
<text x="390.20" y="510.77" font-size="7.2" text-anchor="middle" fill="#444" stroke="#444" >0.4</text>
<line x1="402.40" y1="501.77" x2="402.40" y2="503.77" stroke="#555" stroke-width="0.6" />
<text x="402.40" y="510.77" font-size="7.2" text-anchor="middle" fill="#444" stroke="#444" >0.5</text>
<line x1="414.60" y1="501.77" x2="414.60" y2="503.77" stroke="#555" stroke-width="0.6" />
<text x="414.60" y="510.77" font-size="7.2" text-anchor="middle" fill="#444" stroke="#444" >0.6</text>
<line x1="426.80" y1="501.77" x2="426.80" y2="503.77" stroke="#555" stroke-width="0.6" />
<text x="426.80" y="510.77" font-size="7.2" text-anchor="middle" fill="#444" stroke="#444" >0.7</text>
<line x1="439.00" y1="501.77" x2="439.00" y2="503.77" stroke="#555" stroke-width="0.6" />
<text x="439.00" y="510.77" font-size="7.2" text-anchor="middle" fill="#444" stroke="#444" >0.8</text>
<rect x="447.00" y="401.00" width="69.60" height="100.77" fill="#fff" stroke="none" stroke-width="1" />
<line x1="457.10" y1="401.00" x2="457.10" y2="501.77" stroke="#f0f0f0" stroke-width="0.5" />
<line x1="469.30" y1="401.00" x2="469.30" y2="501.77" stroke="#f0f0f0" stroke-width="0.5" />
<line x1="481.50" y1="401.00" x2="481.50" y2="501.77" stroke="#f0f0f0" stroke-width="0.5" />
<line x1="493.70" y1="401.00" x2="493.70" y2="501.77" stroke="#f0f0f0" stroke-width="0.5" />
<line x1="505.90" y1="401.00" x2="505.90" y2="501.77" stroke="#f0f0f0" stroke-width="0.5" />
<line x1="451.00" y1="401.00" x2="451.00" y2="501.77" stroke="#e4e4e4" stroke-width="0.7" />
<line x1="463.20" y1="401.00" x2="463.20" y2="501.77" stroke="#e4e4e4" stroke-width="0.7" />
<line x1="475.40" y1="401.00" x2="475.40" y2="501.77" stroke="#e4e4e4" stroke-width="0.7" />
<line x1="487.60" y1="401.00" x2="487.60" y2="501.77" stroke="#e4e4e4" stroke-width="0.7" />
<line x1="499.80" y1="401.00" x2="499.80" y2="501.77" stroke="#e4e4e4" stroke-width="0.7" />
<line x1="512.00" y1="401.00" x2="512.00" y2="501.77" stroke="#e4e4e4" stroke-width="0.7" />
<line x1="447.00" y1="406.60" x2="516.60" y2="406.60" stroke="#e4e4e4" stroke-width="0.7" />
<line x1="447.00" y1="416.53" x2="516.60" y2="416.53" stroke="#e4e4e4" stroke-width="0.7" />
<line x1="447.00" y1="426.46" x2="516.60" y2="426.46" stroke="#e4e4e4" stroke-width="0.7" />
<line x1="447.00" y1="436.39" x2="516.60" y2="436.39" stroke="#e4e4e4" stroke-width="0.7" />
<line x1="447.00" y1="446.32" x2="516.60" y2="446.32" stroke="#e4e4e4" stroke-width="0.7" />
<line x1="447.00" y1="456.25" x2="516.60" y2="456.25" stroke="#e4e4e4" stroke-width="0.7" />
<line x1="447.00" y1="466.18" x2="516.60" y2="466.18" stroke="#e4e4e4" stroke-width="0.7" />
<line x1="447.00" y1="476.11" x2="516.60" y2="476.11" stroke="#e4e4e4" stroke-width="0.7" />
<line x1="447.00" y1="486.04" x2="516.60" y2="486.04" stroke="#e4e4e4" stroke-width="0.7" />
<line x1="447.00" y1="495.97" x2="516.60" y2="495.97" stroke="#e4e4e4" stroke-width="0.7" />
<rect x="447.00" y="391.00" width="69.60" height="10.00" fill="#d6d6d6" stroke="#8a8a8a" stroke-width="0.7" />
<text x="481.80" y="398.60" font-size="5.9" text-anchor="middle" fill="#333"  >suppressed</text>
<line x1="451.00" y1="501.77" x2="451.00" y2="503.77" stroke="#555" stroke-width="0.6" />
<text x="451.00" y="510.77" font-size="7.2" text-anchor="middle" fill="#444" stroke="#444" >0.3</text>
<line x1="463.20" y1="501.77" x2="463.20" y2="503.77" stroke="#555" stroke-width="0.6" />
<text x="463.20" y="510.77" font-size="7.2" text-anchor="middle" fill="#444" stroke="#444" >0.4</text>
<line x1="475.40" y1="501.77" x2="475.40" y2="503.77" stroke="#555" stroke-width="0.6" />
<text x="475.40" y="510.77" font-size="7.2" text-anchor="middle" fill="#444" stroke="#444" >0.5</text>
<line x1="487.60" y1="501.77" x2="487.60" y2="503.77" stroke="#555" stroke-width="0.6" />
<text x="487.60" y="510.77" font-size="7.2" text-anchor="middle" fill="#444" stroke="#444" >0.6</text>
<line x1="499.80" y1="501.77" x2="499.80" y2="503.77" stroke="#555" stroke-width="0.6" />
<text x="499.80" y="510.77" font-size="7.2" text-anchor="middle" fill="#444" stroke="#444" >0.7</text>
<line x1="512.00" y1="501.77" x2="512.00" y2="503.77" stroke="#555" stroke-width="0.6" />
<text x="512.00" y="510.77" font-size="7.2" text-anchor="middle" fill="#444" stroke="#444" >0.8</text>
<line x1="371.50" y1="406.60" x2="374.00" y2="406.60" stroke="#555" stroke-width="0.6" />
<text x="370.70" y="409.20" font-size="6.95" text-anchor="end" fill="#222"  >G2M CHECKPOINT</text>
<line x1="371.50" y1="416.53" x2="374.00" y2="416.53" stroke="#555" stroke-width="0.6" />
<text x="370.70" y="419.13" font-size="6.95" text-anchor="end" fill="#222"  >MYC TARGETS V1</text>
<line x1="371.50" y1="426.46" x2="374.00" y2="426.46" stroke="#555" stroke-width="0.6" />
<text x="370.70" y="429.06" font-size="6.95" text-anchor="end" fill="#222"  >E2F TARGETS</text>
<line x1="371.50" y1="436.39" x2="374.00" y2="436.39" stroke="#555" stroke-width="0.6" />
<text x="370.70" y="438.99" font-size="6.95" text-anchor="end" fill="#222"  >MTORC1 SIGNALING</text>
<line x1="371.50" y1="446.32" x2="374.00" y2="446.32" stroke="#555" stroke-width="0.6" />
<text x="370.70" y="448.92" font-size="6.95" text-anchor="end" fill="#222"  >MITOTIC SPINDLE</text>
<line x1="371.50" y1="456.25" x2="374.00" y2="456.25" stroke="#555" stroke-width="0.6" />
<text x="370.70" y="458.85" font-size="6.95" text-anchor="end" fill="#222"  >GLYCOLYSIS</text>
<line x1="371.50" y1="466.18" x2="374.00" y2="466.18" stroke="#555" stroke-width="0.6" />
<text x="370.70" y="468.78" font-size="6.95" text-anchor="end" fill="#222"  >DNA REPAIR</text>
<line x1="371.50" y1="476.11" x2="374.00" y2="476.11" stroke="#555" stroke-width="0.6" />
<text x="370.70" y="478.71" font-size="6.95" text-anchor="end" fill="#222"  >COAGULATION</text>
<line x1="371.50" y1="486.04" x2="374.00" y2="486.04" stroke="#555" stroke-width="0.6" />
<text x="370.70" y="488.64" font-size="6.95" text-anchor="end" fill="#222"  >KRAS SIGNALING DN</text>
<line x1="371.50" y1="495.97" x2="374.00" y2="495.97" stroke="#555" stroke-width="0.6" />
<text x="370.70" y="498.57" font-size="6.95" text-anchor="end" fill="#222"  >BILE ACID METABOLISM</text>
<circle cx="436.93" cy="406.60" r="5.30" fill="#ff0000" stroke="none" stroke-width="1" />
<circle cx="431.92" cy="416.53" r="5.10" fill="#ff0000" stroke="none" stroke-width="1" />
<circle cx="431.31" cy="426.46" r="5.10" fill="#ff0000" stroke="none" stroke-width="1" />
<circle cx="410.33" cy="436.39" r="4.70" fill="#ff0000" stroke="none" stroke-width="1" />
<circle cx="408.74" cy="446.32" r="4.70" fill="#ff0000" stroke="none" stroke-width="1" />
<circle cx="406.79" cy="456.25" r="4.50" fill="#ff0000" stroke="none" stroke-width="1" />
<circle cx="400.08" cy="466.18" r="4.10" fill="#ff0000" stroke="none" stroke-width="1" />
<circle cx="461.37" cy="476.11" r="3.30" fill="#f80018" stroke="none" stroke-width="1" />
<circle cx="455.88" cy="486.04" r="3.50" fill="#1010ff" stroke="none" stroke-width="1" />
<circle cx="450.39" cy="495.97" r="2.10" fill="#8a00d8" stroke="none" stroke-width="1" />
<rect x="374.00" y="401.00" width="69.40" height="100.77" fill="none" stroke="#8a8a8a" stroke-width="0.9" />
<rect x="447.00" y="401.00" width="69.60" height="100.77" fill="none" stroke="#8a8a8a" stroke-width="0.9" />
<text x="311.00" y="394.60" font-size="10" text-anchor="start" fill="#1a1a1a"  >FOXM1</text>
<rect x="305.60" y="402.60" width="66.40" height="9.00" fill="none" stroke="#e06060" stroke-width="0.8" />
<text x="445.30" y="518.50" font-size="7.1" text-anchor="middle" fill="#333"  >GeneRatio</text>
<text x="520.00" y="404.50" font-size="7" text-anchor="start" fill="#222" stroke="#222" >Count</text>
<circle cx="524.00" cy="411.40" r="2.60" fill="#000" stroke="none" stroke-width="1" />
<text x="529.50" y="413.80" font-size="6.5" text-anchor="start" fill="#333" stroke="#333" >30</text>
<circle cx="524.00" cy="421.40" r="3.60" fill="#000" stroke="none" stroke-width="1" />
<text x="529.50" y="423.80" font-size="6.5" text-anchor="start" fill="#333" stroke="#333" >60</text>
<circle cx="524.00" cy="431.60" r="4.30" fill="#000" stroke="none" stroke-width="1" />
<text x="529.50" y="434.00" font-size="6.5" text-anchor="start" fill="#333" stroke="#333" >90</text>
<circle cx="524.00" cy="443.20" r="4.90" fill="#000" stroke="none" stroke-width="1" />
<text x="529.50" y="445.60" font-size="6.5" text-anchor="start" fill="#333" stroke="#333" >120</text>
<circle cx="524.00" cy="455.60" r="5.50" fill="#000" stroke="none" stroke-width="1" />
<text x="529.50" y="458.00" font-size="6.5" text-anchor="start" fill="#333" stroke="#333" >150</text>
<text x="518.20" y="467.00" font-size="7" text-anchor="start" fill="#222" stroke="#222" >p.adjust</text>
<rect x="521.00" y="470.00" width="7.00" height="33.60" fill="url(#gD)"/>
<text x="528.60" y="481.30" font-size="6.5" text-anchor="start" fill="#333" stroke="#333" >0.0004</text>
<text x="528.60" y="490.00" font-size="6.5" text-anchor="start" fill="#333" stroke="#333" >0.0008</text>
<text x="528.60" y="498.60" font-size="6.5" text-anchor="start" fill="#333" stroke="#333" >0.0018</text>
<line x1="69.08" y1="553.00" x2="69.08" y2="601.00" stroke="#ececec" stroke-width="0.6" />
<line x1="69.08" y1="621.00" x2="69.08" y2="640.50" stroke="#ececec" stroke-width="0.6" />
<line x1="95.35" y1="553.00" x2="95.35" y2="601.00" stroke="#e2e2e2" stroke-width="0.6" />
<line x1="95.35" y1="621.00" x2="95.35" y2="640.50" stroke="#e2e2e2" stroke-width="0.6" />
<line x1="121.62" y1="553.00" x2="121.62" y2="601.00" stroke="#ececec" stroke-width="0.6" />
<line x1="121.62" y1="621.00" x2="121.62" y2="640.50" stroke="#ececec" stroke-width="0.6" />
<line x1="147.90" y1="553.00" x2="147.90" y2="601.00" stroke="#e2e2e2" stroke-width="0.6" />
<line x1="147.90" y1="621.00" x2="147.90" y2="640.50" stroke="#e2e2e2" stroke-width="0.6" />
<line x1="174.18" y1="553.00" x2="174.18" y2="601.00" stroke="#ececec" stroke-width="0.6" />
<line x1="174.18" y1="621.00" x2="174.18" y2="640.50" stroke="#ececec" stroke-width="0.6" />
<line x1="200.45" y1="553.00" x2="200.45" y2="601.00" stroke="#e2e2e2" stroke-width="0.6" />
<line x1="200.45" y1="621.00" x2="200.45" y2="640.50" stroke="#e2e2e2" stroke-width="0.6" />
<line x1="226.73" y1="553.00" x2="226.73" y2="601.00" stroke="#ececec" stroke-width="0.6" />
<line x1="226.73" y1="621.00" x2="226.73" y2="640.50" stroke="#ececec" stroke-width="0.6" />
<line x1="253.00" y1="553.00" x2="253.00" y2="601.00" stroke="#e2e2e2" stroke-width="0.6" />
<line x1="253.00" y1="621.00" x2="253.00" y2="640.50" stroke="#e2e2e2" stroke-width="0.6" />
<text x="46.00" y="546.60" font-size="10" text-anchor="start" fill="#111"  >HMGA1</text>
<line x1="42.60" y1="553.50" x2="42.60" y2="600.70" stroke="#444" stroke-width="0.8" />
<line x1="40.80" y1="600.20" x2="42.60" y2="600.20" stroke="#444" stroke-width="0.6" />
<text x="40.40" y="602.30" font-size="5.9" text-anchor="end" fill="#333" stroke="#333" >0.0</text>
<line x1="40.80" y1="588.90" x2="42.60" y2="588.90" stroke="#444" stroke-width="0.6" />
<text x="40.40" y="591.00" font-size="5.9" text-anchor="end" fill="#333" stroke="#333" >0.2</text>
<line x1="40.80" y1="577.60" x2="42.60" y2="577.60" stroke="#444" stroke-width="0.6" />
<text x="40.40" y="579.70" font-size="5.9" text-anchor="end" fill="#333" stroke="#333" >0.4</text>
<line x1="40.80" y1="566.30" x2="42.60" y2="566.30" stroke="#444" stroke-width="0.6" />
<text x="40.40" y="568.40" font-size="5.9" text-anchor="end" fill="#333" stroke="#333" >0.6</text>
<line x1="40.80" y1="555.00" x2="42.60" y2="555.00" stroke="#444" stroke-width="0.6" />
<text x="40.40" y="557.10" font-size="5.9" text-anchor="end" fill="#333" stroke="#333" >0.8</text>
<polyline points="42.6,600.2 43.3,588.9 44.4,571.4 45.4,567.4 46.5,565.7 49.8,564.0 53.1,561.2 56.4,560.7 59.0,559.5 61.8,557.8 65.0,557.3 68.4,557.0 72.7,557.0 76.0,556.4 78.2,555.8 83.6,557.0 94.5,558.4 109.8,561.2 127.3,565.7 144.7,570.3 171.8,576.5 193.6,583.2 215.5,589.5 237.3,594.0 259.1,598.5 268.0,600.2" fill="none" stroke="#f01e1e" stroke-width="1.2" stroke-linejoin="round"/>
<rect x="43.30" y="602.70" width="4.90" height="12.40" fill="#111" stroke="none" stroke-width="1" />
<rect x="48.70" y="602.70" width="5.50" height="12.40" fill="#111" stroke="none" stroke-width="1" />
<rect x="55.30" y="602.70" width="1.10" height="12.40" fill="#777" stroke="none" stroke-width="1" />
<rect x="57.00" y="602.70" width="6.40" height="12.40" fill="#111" stroke="none" stroke-width="1" />
<rect x="64.00" y="602.70" width="1.60" height="12.40" fill="#111" stroke="none" stroke-width="1" />
<rect x="67.80" y="602.70" width="1.10" height="12.40" fill="#333" stroke="none" stroke-width="1" />
<rect x="71.00" y="602.70" width="1.00" height="12.40" fill="#111" stroke="none" stroke-width="1" />
<rect x="72.70" y="602.70" width="1.10" height="12.40" fill="#444" stroke="none" stroke-width="1" />
<rect x="74.90" y="602.70" width="3.80" height="12.40" fill="#111" stroke="none" stroke-width="1" />
<rect x="82.50" y="602.70" width="1.70" height="12.40" fill="#666" stroke="none" stroke-width="1" />
<rect x="87.40" y="602.70" width="1.10" height="12.40" fill="#444" stroke="none" stroke-width="1" />
<rect x="90.70" y="602.70" width="2.30" height="12.40" fill="#333" stroke="none" stroke-width="1" />
<rect x="96.00" y="602.70" width="1.40" height="12.40" fill="#555" stroke="none" stroke-width="1" />
<rect x="98.60" y="602.70" width="0.80" height="12.40" fill="#333" stroke="none" stroke-width="1" />
<rect x="101.00" y="602.70" width="1.00" height="12.40" fill="#222" stroke="none" stroke-width="1" />
<rect x="103.60" y="602.70" width="0.70" height="12.40" fill="#555" stroke="none" stroke-width="1" />
<rect x="106.30" y="602.70" width="2.20" height="12.40" fill="#111" stroke="none" stroke-width="1" />
<rect x="110.60" y="602.70" width="0.60" height="12.40" fill="#444" stroke="none" stroke-width="1" />
<rect x="115.70" y="602.70" width="0.60" height="12.40" fill="#333" stroke="none" stroke-width="1" />
<rect x="118.80" y="602.70" width="0.60" height="12.40" fill="#666" stroke="none" stroke-width="1" />
<rect x="121.60" y="602.70" width="0.70" height="12.40" fill="#333" stroke="none" stroke-width="1" />
<rect x="124.00" y="602.70" width="0.60" height="12.40" fill="#555" stroke="none" stroke-width="1" />
<rect x="127.80" y="602.70" width="0.60" height="12.40" fill="#333" stroke="none" stroke-width="1" />
<rect x="130.80" y="602.70" width="0.60" height="12.40" fill="#555" stroke="none" stroke-width="1" />
<rect x="133.60" y="602.70" width="0.60" height="12.40" fill="#333" stroke="none" stroke-width="1" />
<rect x="143.30" y="602.70" width="0.60" height="12.40" fill="#444" stroke="none" stroke-width="1" />
<rect x="147.80" y="602.70" width="0.60" height="12.40" fill="#333" stroke="none" stroke-width="1" />
<rect x="152.80" y="602.70" width="0.60" height="12.40" fill="#555" stroke="none" stroke-width="1" />
<rect x="155.00" y="602.70" width="0.60" height="12.40" fill="#333" stroke="none" stroke-width="1" />
<rect x="161.80" y="602.70" width="2.50" height="12.40" fill="#444" stroke="none" stroke-width="1" />
<rect x="185.30" y="602.70" width="0.60" height="12.40" fill="#555" stroke="none" stroke-width="1" />
<rect x="197.70" y="602.70" width="0.60" height="12.40" fill="#555" stroke="none" stroke-width="1" />
<rect x="226.00" y="602.70" width="2.40" height="12.40" fill="#666" stroke="none" stroke-width="1" />
<rect x="245.70" y="602.70" width="0.60" height="12.40" fill="#666" stroke="none" stroke-width="1" />
<rect x="42.80" y="615.00" width="21.75" height="5.00" fill="#cf3b22" stroke="none" stroke-width="1" />
<rect x="64.50" y="615.00" width="137.55" height="5.00" fill="#e8603e" stroke="none" stroke-width="1" />
<rect x="202.00" y="615.00" width="31.05" height="5.00" fill="#f2a68c" stroke="none" stroke-width="1" />
<rect x="233.00" y="615.00" width="15.05" height="5.00" fill="#fbdacd" stroke="none" stroke-width="1" />
<rect x="248.00" y="615.00" width="10.05" height="5.00" fill="#e9eef6" stroke="none" stroke-width="1" />
<rect x="258.00" y="615.00" width="7.05" height="5.00" fill="#a7c6e4" stroke="none" stroke-width="1" />
<rect x="265.00" y="615.00" width="3.05" height="5.00" fill="#3c7cbf" stroke="none" stroke-width="1" />
<polygon points="42.6,632.8 42.8,625.5 46.0,626.9 50.0,627.8 60.0,629.0 75.0,630.0 95.0,630.8 120.0,631.4 150.0,631.9 180.0,632.2 210.0,632.6 235.0,632.8 248.0,633.7 258.0,635.8 264.0,638.1 268.0,639.9 268.0,632.8" fill="#c4c4c4"/>
<line x1="42.60" y1="632.80" x2="268.00" y2="632.80" stroke="#bdbdbd" stroke-width="0.8" />
<line x1="42.60" y1="620.50" x2="42.60" y2="640.80" stroke="#444" stroke-width="0.8" />
<line x1="42.60" y1="640.80" x2="268.00" y2="640.80" stroke="#444" stroke-width="0.8" />
<line x1="40.80" y1="621.00" x2="42.60" y2="621.00" stroke="#444" stroke-width="0.6" />
<text x="40.40" y="623.10" font-size="5.9" text-anchor="end" fill="#333" stroke="#333" >1.0</text>
<line x1="40.80" y1="626.90" x2="42.60" y2="626.90" stroke="#444" stroke-width="0.6" />
<text x="40.40" y="629.00" font-size="5.9" text-anchor="end" fill="#333" stroke="#333" >0.5</text>
<line x1="40.80" y1="632.80" x2="42.60" y2="632.80" stroke="#444" stroke-width="0.6" />
<text x="40.40" y="634.90" font-size="5.9" text-anchor="end" fill="#333" stroke="#333" >0.0</text>
<line x1="40.80" y1="638.70" x2="42.60" y2="638.70" stroke="#444" stroke-width="0.6" />
<text x="40.40" y="640.80" font-size="5.9" text-anchor="end" fill="#333" stroke="#333" >-0.5</text>
<line x1="95.35" y1="640.80" x2="95.35" y2="642.60" stroke="#444" stroke-width="0.6" />
<text x="95.35" y="648.30" font-size="6.2" text-anchor="middle" fill="#333" stroke="#333" >5000</text>
<line x1="147.90" y1="640.80" x2="147.90" y2="642.60" stroke="#444" stroke-width="0.6" />
<text x="147.90" y="648.30" font-size="6.2" text-anchor="middle" fill="#333" stroke="#333" >10000</text>
<line x1="200.45" y1="640.80" x2="200.45" y2="642.60" stroke="#444" stroke-width="0.6" />
<text x="200.45" y="648.30" font-size="6.2" text-anchor="middle" fill="#333" stroke="#333" >15000</text>
<line x1="253.00" y1="640.80" x2="253.00" y2="642.60" stroke="#444" stroke-width="0.6" />
<text x="253.00" y="648.30" font-size="6.2" text-anchor="middle" fill="#333" stroke="#333" >20000</text>
<text x="152.70" y="658.20" font-size="8.2" text-anchor="middle" fill="#1a1a1a"  >Rank in Ordered Dataset</text>
<text transform="translate(29.60,574.80) rotate(-90)" font-size="6.1" text-anchor="middle" fill="#2a2a2a" stroke="#2a2a2a">Enrichment score</text>
<text transform="translate(29.60,627.50) rotate(-90)" font-size="6.1" text-anchor="middle" fill="#2a2a2a" stroke="#2a2a2a">Ranked list metric</text>
<text x="155.00" y="555.30" font-size="8.1" text-anchor="start" fill="#1a1a1a"  >G2M _CHECKPOINT</text>
<text x="155.00" y="563.60" font-size="8.1" text-anchor="start" fill="#1a1a1a"  >p.adjust=0.0036</text>
<line x1="337.90" y1="553.00" x2="337.90" y2="601.00" stroke="#ececec" stroke-width="0.6" />
<line x1="337.90" y1="621.00" x2="337.90" y2="640.50" stroke="#ececec" stroke-width="0.6" />
<line x1="364.50" y1="553.00" x2="364.50" y2="601.00" stroke="#e2e2e2" stroke-width="0.6" />
<line x1="364.50" y1="621.00" x2="364.50" y2="640.50" stroke="#e2e2e2" stroke-width="0.6" />
<line x1="391.10" y1="553.00" x2="391.10" y2="601.00" stroke="#ececec" stroke-width="0.6" />
<line x1="391.10" y1="621.00" x2="391.10" y2="640.50" stroke="#ececec" stroke-width="0.6" />
<line x1="417.70" y1="553.00" x2="417.70" y2="601.00" stroke="#e2e2e2" stroke-width="0.6" />
<line x1="417.70" y1="621.00" x2="417.70" y2="640.50" stroke="#e2e2e2" stroke-width="0.6" />
<line x1="444.30" y1="553.00" x2="444.30" y2="601.00" stroke="#ececec" stroke-width="0.6" />
<line x1="444.30" y1="621.00" x2="444.30" y2="640.50" stroke="#ececec" stroke-width="0.6" />
<line x1="470.90" y1="553.00" x2="470.90" y2="601.00" stroke="#e2e2e2" stroke-width="0.6" />
<line x1="470.90" y1="621.00" x2="470.90" y2="640.50" stroke="#e2e2e2" stroke-width="0.6" />
<line x1="497.50" y1="553.00" x2="497.50" y2="601.00" stroke="#ececec" stroke-width="0.6" />
<line x1="497.50" y1="621.00" x2="497.50" y2="640.50" stroke="#ececec" stroke-width="0.6" />
<line x1="524.10" y1="553.00" x2="524.10" y2="601.00" stroke="#e2e2e2" stroke-width="0.6" />
<line x1="524.10" y1="621.00" x2="524.10" y2="640.50" stroke="#e2e2e2" stroke-width="0.6" />
<text x="314.40" y="547.00" font-size="10" text-anchor="start" fill="#111"  >FOXM1</text>
<line x1="311.60" y1="553.50" x2="311.60" y2="601.10" stroke="#444" stroke-width="0.8" />
<line x1="309.80" y1="600.60" x2="311.60" y2="600.60" stroke="#444" stroke-width="0.6" />
<text x="309.40" y="602.70" font-size="5.9" text-anchor="end" fill="#333" stroke="#333" >0.0</text>
<line x1="309.80" y1="589.40" x2="311.60" y2="589.40" stroke="#444" stroke-width="0.6" />
<text x="309.40" y="591.50" font-size="5.9" text-anchor="end" fill="#333" stroke="#333" >0.2</text>
<line x1="309.80" y1="578.20" x2="311.60" y2="578.20" stroke="#444" stroke-width="0.6" />
<text x="309.40" y="580.30" font-size="5.9" text-anchor="end" fill="#333" stroke="#333" >0.4</text>
<line x1="309.80" y1="567.00" x2="311.60" y2="567.00" stroke="#444" stroke-width="0.6" />
<text x="309.40" y="569.10" font-size="5.9" text-anchor="end" fill="#333" stroke="#333" >0.6</text>
<line x1="309.80" y1="555.80" x2="311.60" y2="555.80" stroke="#444" stroke-width="0.6" />
<text x="309.40" y="557.90" font-size="5.9" text-anchor="end" fill="#333" stroke="#333" >0.8</text>
<polyline points="311.6,600.6 311.9,592.2 312.4,577.6 313.5,569.2 315.6,563.6 318.9,559.7 324.4,557.7 329.8,556.4 340.7,555.8 351.6,555.8 362.5,557.7 373.5,560.3 395.3,565.9 417.1,570.9 441.8,576.5 463.6,583.2 485.5,589.7 507.3,594.7 529.1,598.4 537.0,600.6" fill="none" stroke="#f01e1e" stroke-width="1.2" stroke-linejoin="round"/>
<rect x="312.10" y="602.70" width="6.80" height="12.40" fill="#111" stroke="none" stroke-width="1" />
<rect x="319.20" y="602.70" width="1.00" height="12.40" fill="#555" stroke="none" stroke-width="1" />
<rect x="320.60" y="602.70" width="1.00" height="12.40" fill="#888" stroke="none" stroke-width="1" />
<rect x="322.00" y="602.70" width="1.00" height="12.40" fill="#777" stroke="none" stroke-width="1" />
<rect x="323.40" y="602.70" width="1.00" height="12.40" fill="#444" stroke="none" stroke-width="1" />
<rect x="324.80" y="602.70" width="1.40" height="12.40" fill="#888" stroke="none" stroke-width="1" />
<rect x="327.00" y="602.70" width="1.70" height="12.40" fill="#aaa" stroke="none" stroke-width="1" />
<rect x="329.80" y="602.70" width="1.60" height="12.40" fill="#b0b0b0" stroke="none" stroke-width="1" />
<rect x="332.00" y="602.70" width="1.30" height="12.40" fill="#111" stroke="none" stroke-width="1" />
<rect x="334.20" y="602.70" width="1.60" height="12.40" fill="#888" stroke="none" stroke-width="1" />
<rect x="337.40" y="602.70" width="3.30" height="12.40" fill="#1a1a1a" stroke="none" stroke-width="1" />
<rect x="341.30" y="602.70" width="1.60" height="12.40" fill="#888" stroke="none" stroke-width="1" />
<rect x="343.40" y="602.70" width="2.20" height="12.40" fill="#222" stroke="none" stroke-width="1" />
<rect x="346.20" y="602.70" width="1.60" height="12.40" fill="#8a8a8a" stroke="none" stroke-width="1" />
<rect x="348.30" y="602.70" width="2.70" height="12.40" fill="#555" stroke="none" stroke-width="1" />
<rect x="352.70" y="602.70" width="1.10" height="12.40" fill="#b5b5b5" stroke="none" stroke-width="1" />
<rect x="354.90" y="602.70" width="1.60" height="12.40" fill="#aaa" stroke="none" stroke-width="1" />
<rect x="357.60" y="602.70" width="1.10" height="12.40" fill="#888" stroke="none" stroke-width="1" />
<rect x="361.40" y="602.70" width="1.10" height="12.40" fill="#333" stroke="none" stroke-width="1" />
<rect x="363.60" y="602.70" width="1.10" height="12.40" fill="#777" stroke="none" stroke-width="1" />
<rect x="372.40" y="602.70" width="0.60" height="12.40" fill="#333" stroke="none" stroke-width="1" />
<rect x="373.90" y="602.70" width="0.60" height="12.40" fill="#444" stroke="none" stroke-width="1" />
<rect x="376.40" y="602.70" width="0.60" height="12.40" fill="#444" stroke="none" stroke-width="1" />
<rect x="380.10" y="602.70" width="0.60" height="12.40" fill="#555" stroke="none" stroke-width="1" />
<rect x="381.20" y="602.70" width="0.60" height="12.40" fill="#444" stroke="none" stroke-width="1" />
<rect x="386.10" y="602.70" width="0.60" height="12.40" fill="#666" stroke="none" stroke-width="1" />
<rect x="387.90" y="602.70" width="0.60" height="12.40" fill="#555" stroke="none" stroke-width="1" />
<rect x="396.10" y="602.70" width="0.60" height="12.40" fill="#555" stroke="none" stroke-width="1" />
<rect x="399.30" y="602.70" width="1.30" height="12.40" fill="#222" stroke="none" stroke-width="1" />
<rect x="404.20" y="602.70" width="0.60" height="12.40" fill="#666" stroke="none" stroke-width="1" />
<rect x="412.40" y="602.70" width="0.60" height="12.40" fill="#444" stroke="none" stroke-width="1" />
<rect x="415.20" y="602.70" width="0.60" height="12.40" fill="#555" stroke="none" stroke-width="1" />
<rect x="423.70" y="602.70" width="0.60" height="12.40" fill="#666" stroke="none" stroke-width="1" />
<rect x="430.20" y="602.70" width="0.60" height="12.40" fill="#555" stroke="none" stroke-width="1" />
<rect x="448.80" y="602.70" width="0.60" height="12.40" fill="#555" stroke="none" stroke-width="1" />
<rect x="457.60" y="602.70" width="0.60" height="12.40" fill="#666" stroke="none" stroke-width="1" />
<rect x="464.90" y="602.70" width="0.60" height="12.40" fill="#666" stroke="none" stroke-width="1" />
<rect x="475.30" y="602.70" width="0.60" height="12.40" fill="#666" stroke="none" stroke-width="1" />
<rect x="479.90" y="602.70" width="0.60" height="12.40" fill="#666" stroke="none" stroke-width="1" />
<rect x="483.90" y="602.70" width="0.60" height="12.40" fill="#666" stroke="none" stroke-width="1" />
<rect x="488.60" y="602.70" width="0.60" height="12.40" fill="#666" stroke="none" stroke-width="1" />
<rect x="506.70" y="602.70" width="0.60" height="12.40" fill="#666" stroke="none" stroke-width="1" />
<rect x="311.60" y="615.00" width="30.25" height="5.00" fill="#c8321f" stroke="none" stroke-width="1" />
<rect x="341.80" y="615.00" width="130.25" height="5.00" fill="#df412b" stroke="none" stroke-width="1" />
<rect x="472.00" y="615.00" width="33.35" height="5.00" fill="#e8603f" stroke="none" stroke-width="1" />
<rect x="505.30" y="615.00" width="17.25" height="5.00" fill="#f2a189" stroke="none" stroke-width="1" />
<rect x="522.50" y="615.00" width="8.75" height="5.00" fill="#fbdfd4" stroke="none" stroke-width="1" />
<rect x="531.20" y="615.00" width="3.45" height="5.00" fill="#f3f1f4" stroke="none" stroke-width="1" />
<rect x="534.60" y="615.00" width="2.45" height="5.00" fill="#5a90cc" stroke="none" stroke-width="1" />
<polygon points="311.6,632.8 311.5,622.8 313.0,625.1 316.0,626.7 322.0,627.8 335.0,629.0 355.0,630.0 380.0,630.7 410.0,631.4 440.0,631.9 470.0,632.2 500.0,632.6 515.0,632.8 525.0,634.0 532.0,636.3 537.0,639.3 537.0,632.8" fill="#c4c4c4"/>
<line x1="311.60" y1="632.80" x2="537.00" y2="632.80" stroke="#bdbdbd" stroke-width="0.8" />
<line x1="311.60" y1="620.50" x2="311.60" y2="640.80" stroke="#444" stroke-width="0.8" />
<line x1="311.60" y1="640.80" x2="537.00" y2="640.80" stroke="#444" stroke-width="0.8" />
<line x1="309.80" y1="621.00" x2="311.60" y2="621.00" stroke="#444" stroke-width="0.6" />
<text x="309.40" y="623.10" font-size="5.9" text-anchor="end" fill="#333" stroke="#333" >1.0</text>
<line x1="309.80" y1="626.90" x2="311.60" y2="626.90" stroke="#444" stroke-width="0.6" />
<text x="309.40" y="629.00" font-size="5.9" text-anchor="end" fill="#333" stroke="#333" >0.5</text>
<line x1="309.80" y1="632.80" x2="311.60" y2="632.80" stroke="#444" stroke-width="0.6" />
<text x="309.40" y="634.90" font-size="5.9" text-anchor="end" fill="#333" stroke="#333" >0.0</text>
<line x1="309.80" y1="638.70" x2="311.60" y2="638.70" stroke="#444" stroke-width="0.6" />
<text x="309.40" y="640.80" font-size="5.9" text-anchor="end" fill="#333" stroke="#333" >-0.5</text>
<line x1="364.50" y1="640.80" x2="364.50" y2="642.60" stroke="#444" stroke-width="0.6" />
<text x="364.50" y="648.30" font-size="6.2" text-anchor="middle" fill="#333" stroke="#333" >5000</text>
<line x1="417.70" y1="640.80" x2="417.70" y2="642.60" stroke="#444" stroke-width="0.6" />
<text x="417.70" y="648.30" font-size="6.2" text-anchor="middle" fill="#333" stroke="#333" >10000</text>
<line x1="470.90" y1="640.80" x2="470.90" y2="642.60" stroke="#444" stroke-width="0.6" />
<text x="470.90" y="648.30" font-size="6.2" text-anchor="middle" fill="#333" stroke="#333" >15000</text>
<line x1="524.10" y1="640.80" x2="524.10" y2="642.60" stroke="#444" stroke-width="0.6" />
<text x="524.10" y="648.30" font-size="6.2" text-anchor="middle" fill="#333" stroke="#333" >20000</text>
<text x="421.70" y="658.20" font-size="8.2" text-anchor="middle" fill="#1a1a1a"  >Rank in Ordered Dataset</text>
<text transform="translate(298.50,574.80) rotate(-90)" font-size="6.1" text-anchor="middle" fill="#2a2a2a" stroke="#2a2a2a">Enrichment score</text>
<text transform="translate(298.50,627.50) rotate(-90)" font-size="6.1" text-anchor="middle" fill="#2a2a2a" stroke="#2a2a2a">Ranked list metric</text>
<text x="445.00" y="555.30" font-size="8.1" text-anchor="start" fill="#1a1a1a"  >G2M _CHECKPOINT</text>
<text x="445.00" y="563.60" font-size="8.1" text-anchor="start" fill="#1a1a1a"  >p.adjust=0.0039</text></svg></body></html>
